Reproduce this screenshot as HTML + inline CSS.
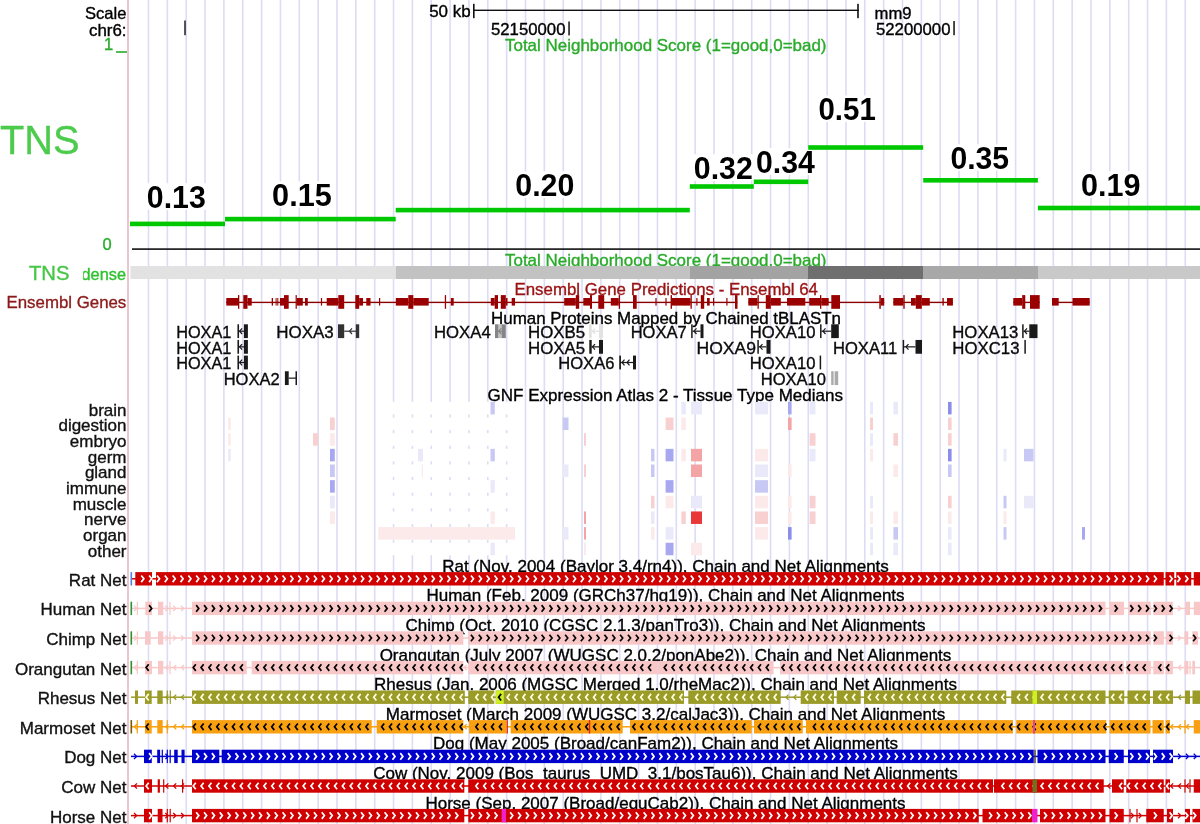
<!DOCTYPE html><html><head><meta charset="utf-8"><title>UCSC Genome Browser - HOXA cluster</title><style>html,body{margin:0;padding:0;background:#fff;overflow:hidden;width:1200px;height:824px}svg{display:block}</style></head><body><svg width="1200" height="824" viewBox="0 0 1200 824" font-family="'Liberation Sans', Arial, Helvetica, sans-serif"><rect x="0" y="0" width="1200" height="824" fill="#ffffff"/><rect x="147.70" y="0.00" width="1.60" height="824.00" fill="#dcdcf6"/>
<rect x="166.55" y="0.00" width="1.60" height="824.00" fill="#dcdcf6"/>
<rect x="185.40" y="0.00" width="1.60" height="824.00" fill="#dcdcf6"/>
<rect x="204.25" y="0.00" width="1.60" height="824.00" fill="#dcdcf6"/>
<rect x="223.10" y="0.00" width="1.60" height="824.00" fill="#dcdcf6"/>
<rect x="241.95" y="0.00" width="1.60" height="824.00" fill="#dcdcf6"/>
<rect x="260.80" y="0.00" width="1.60" height="824.00" fill="#dcdcf6"/>
<rect x="279.65" y="0.00" width="1.60" height="824.00" fill="#dcdcf6"/>
<rect x="298.50" y="0.00" width="1.60" height="824.00" fill="#dcdcf6"/>
<rect x="317.35" y="0.00" width="1.60" height="824.00" fill="#dcdcf6"/>
<rect x="336.20" y="0.00" width="1.60" height="824.00" fill="#dcdcf6"/>
<rect x="355.05" y="0.00" width="1.60" height="824.00" fill="#dcdcf6"/>
<rect x="373.90" y="0.00" width="1.60" height="824.00" fill="#dcdcf6"/>
<rect x="392.75" y="0.00" width="1.60" height="824.00" fill="#dcdcf6"/>
<rect x="411.60" y="0.00" width="1.60" height="824.00" fill="#dcdcf6"/>
<rect x="430.45" y="0.00" width="1.60" height="824.00" fill="#dcdcf6"/>
<rect x="449.30" y="0.00" width="1.60" height="824.00" fill="#dcdcf6"/>
<rect x="468.15" y="0.00" width="1.60" height="824.00" fill="#dcdcf6"/>
<rect x="487.00" y="0.00" width="1.60" height="824.00" fill="#dcdcf6"/>
<rect x="505.85" y="0.00" width="1.60" height="824.00" fill="#dcdcf6"/>
<rect x="524.70" y="0.00" width="1.60" height="824.00" fill="#dcdcf6"/>
<rect x="543.55" y="0.00" width="1.60" height="824.00" fill="#dcdcf6"/>
<rect x="562.40" y="0.00" width="1.60" height="824.00" fill="#dcdcf6"/>
<rect x="581.25" y="0.00" width="1.60" height="824.00" fill="#dcdcf6"/>
<rect x="600.10" y="0.00" width="1.60" height="824.00" fill="#dcdcf6"/>
<rect x="618.95" y="0.00" width="1.60" height="824.00" fill="#dcdcf6"/>
<rect x="637.80" y="0.00" width="1.60" height="824.00" fill="#dcdcf6"/>
<rect x="656.65" y="0.00" width="1.60" height="824.00" fill="#dcdcf6"/>
<rect x="675.50" y="0.00" width="1.60" height="824.00" fill="#dcdcf6"/>
<rect x="694.35" y="0.00" width="1.60" height="824.00" fill="#dcdcf6"/>
<rect x="713.20" y="0.00" width="1.60" height="824.00" fill="#dcdcf6"/>
<rect x="732.05" y="0.00" width="1.60" height="824.00" fill="#dcdcf6"/>
<rect x="750.90" y="0.00" width="1.60" height="824.00" fill="#dcdcf6"/>
<rect x="769.75" y="0.00" width="1.60" height="824.00" fill="#dcdcf6"/>
<rect x="788.60" y="0.00" width="1.60" height="824.00" fill="#dcdcf6"/>
<rect x="807.45" y="0.00" width="1.60" height="824.00" fill="#dcdcf6"/>
<rect x="826.30" y="0.00" width="1.60" height="824.00" fill="#dcdcf6"/>
<rect x="845.15" y="0.00" width="1.60" height="824.00" fill="#dcdcf6"/>
<rect x="864.00" y="0.00" width="1.60" height="824.00" fill="#dcdcf6"/>
<rect x="882.85" y="0.00" width="1.60" height="824.00" fill="#dcdcf6"/>
<rect x="901.70" y="0.00" width="1.60" height="824.00" fill="#dcdcf6"/>
<rect x="920.55" y="0.00" width="1.60" height="824.00" fill="#dcdcf6"/>
<rect x="939.40" y="0.00" width="1.60" height="824.00" fill="#dcdcf6"/>
<rect x="958.25" y="0.00" width="1.60" height="824.00" fill="#dcdcf6"/>
<rect x="977.10" y="0.00" width="1.60" height="824.00" fill="#dcdcf6"/>
<rect x="995.95" y="0.00" width="1.60" height="824.00" fill="#dcdcf6"/>
<rect x="1014.80" y="0.00" width="1.60" height="824.00" fill="#dcdcf6"/>
<rect x="1033.65" y="0.00" width="1.60" height="824.00" fill="#dcdcf6"/>
<rect x="1052.50" y="0.00" width="1.60" height="824.00" fill="#dcdcf6"/>
<rect x="1071.35" y="0.00" width="1.60" height="824.00" fill="#dcdcf6"/>
<rect x="1090.20" y="0.00" width="1.60" height="824.00" fill="#dcdcf6"/>
<rect x="1109.05" y="0.00" width="1.60" height="824.00" fill="#dcdcf6"/>
<rect x="1127.90" y="0.00" width="1.60" height="824.00" fill="#dcdcf6"/>
<rect x="1146.75" y="0.00" width="1.60" height="824.00" fill="#dcdcf6"/>
<rect x="1165.60" y="0.00" width="1.60" height="824.00" fill="#dcdcf6"/>
<rect x="1184.45" y="0.00" width="1.60" height="824.00" fill="#dcdcf6"/>
<rect x="127.00" y="0.00" width="2.00" height="824.00" fill="#ebc6ca"/>
<text x="85.00" y="18.50" font-size="16.5" fill="#000" text-anchor="start" stroke="#000" stroke-width="0.35" textLength="41.5" lengthAdjust="spacingAndGlyphs">Scale</text>
<text x="89.00" y="35.50" font-size="16.5" fill="#000" text-anchor="start" stroke="#000" stroke-width="0.35" textLength="37.5" lengthAdjust="spacingAndGlyphs">chr6:</text>
<text x="104.00" y="50.20" font-size="16.5" fill="#2aab2a" text-anchor="start" stroke="#2aab2a" stroke-width="0.35">1</text>
<rect x="116.00" y="51.20" width="11.00" height="1.60" fill="#2aab2a"/>
<rect x="184.30" y="20.50" width="1.40" height="14.70" fill="#111"/>
<text x="429.20" y="16.70" font-size="16.5" fill="#000" text-anchor="start" stroke="#000" stroke-width="0.35" textLength="41.5" lengthAdjust="spacingAndGlyphs">50 kb</text>
<rect x="473.00" y="3.80" width="1.60" height="14.40" fill="#111"/>
<rect x="473.00" y="9.60" width="385.80" height="1.40" fill="#111"/>
<rect x="857.20" y="3.80" width="1.60" height="14.40" fill="#111"/>
<text x="491.00" y="35.40" font-size="16.5" fill="#000" text-anchor="start" stroke="#000" stroke-width="0.35" textLength="74.5" lengthAdjust="spacingAndGlyphs">52150000</text>
<rect x="568.30" y="21.50" width="1.50" height="13.90" fill="#111"/>
<text x="874.60" y="18.50" font-size="16.5" fill="#000" text-anchor="start" stroke="#000" stroke-width="0.35" textLength="37.0" lengthAdjust="spacingAndGlyphs">mm9</text>
<text x="876.00" y="35.20" font-size="16.5" fill="#000" text-anchor="start" stroke="#000" stroke-width="0.35" textLength="74.5" lengthAdjust="spacingAndGlyphs">52200000</text>
<rect x="953.30" y="21.00" width="1.50" height="14.20" fill="#111"/>
<text x="505.00" y="50.80" font-size="16.5" fill="#2aab2a" text-anchor="start" stroke="#2aab2a" stroke-width="0.35" textLength="321.5" lengthAdjust="spacingAndGlyphs">Total Neighborhood Score (1=good,0=bad)</text>
<text x="0.00" y="154.40" font-size="40" fill="#4ccb4c" text-anchor="start" stroke="#4ccb4c" stroke-width="0.35" textLength="79.5" lengthAdjust="spacingAndGlyphs">TNS</text>
<rect x="144.50" y="183.20" width="64.00" height="26.60" fill="#ffffff"/>
<rect x="269.80" y="181.20" width="64.70" height="26.60" fill="#ffffff"/>
<rect x="513.00" y="171.40" width="64.10" height="26.60" fill="#ffffff"/>
<rect x="691.50" y="154.20" width="64.00" height="26.60" fill="#ffffff"/>
<rect x="753.70" y="148.20" width="63.80" height="26.60" fill="#ffffff"/>
<rect x="816.20" y="95.40" width="62.30" height="26.60" fill="#ffffff"/>
<rect x="948.10" y="144.20" width="63.70" height="26.60" fill="#ffffff"/>
<rect x="1078.80" y="171.20" width="64.50" height="26.60" fill="#ffffff"/>
<rect x="130.00" y="221.60" width="95.00" height="4.60" fill="#00c800"/>
<rect x="225.00" y="216.80" width="170.70" height="4.60" fill="#00c800"/>
<rect x="395.70" y="207.80" width="294.10" height="4.60" fill="#00c800"/>
<rect x="689.80" y="184.20" width="64.00" height="4.60" fill="#00c800"/>
<rect x="753.80" y="179.50" width="54.40" height="4.60" fill="#00c800"/>
<rect x="808.20" y="145.20" width="115.00" height="4.60" fill="#00c800"/>
<rect x="923.20" y="178.00" width="114.70" height="4.60" fill="#00c800"/>
<rect x="1037.90" y="205.70" width="162.10" height="4.60" fill="#00c800"/>
<text x="146.80" y="208.00" font-size="31" fill="#000" text-anchor="start" font-weight="bold" textLength="59.0" lengthAdjust="spacingAndGlyphs">0.13</text>
<text x="272.10" y="206.00" font-size="31" fill="#000" text-anchor="start" font-weight="bold" textLength="59.7" lengthAdjust="spacingAndGlyphs">0.15</text>
<text x="515.30" y="196.20" font-size="31" fill="#000" text-anchor="start" font-weight="bold" textLength="59.1" lengthAdjust="spacingAndGlyphs">0.20</text>
<text x="693.80" y="179.00" font-size="31" fill="#000" text-anchor="start" font-weight="bold" textLength="59.0" lengthAdjust="spacingAndGlyphs">0.32</text>
<text x="756.00" y="173.00" font-size="31" fill="#000" text-anchor="start" font-weight="bold" textLength="58.8" lengthAdjust="spacingAndGlyphs">0.34</text>
<text x="818.50" y="120.20" font-size="31" fill="#000" text-anchor="start" font-weight="bold" textLength="57.3" lengthAdjust="spacingAndGlyphs">0.51</text>
<text x="950.40" y="169.00" font-size="31" fill="#000" text-anchor="start" font-weight="bold" textLength="58.7" lengthAdjust="spacingAndGlyphs">0.35</text>
<text x="1081.10" y="196.00" font-size="31" fill="#000" text-anchor="start" font-weight="bold" textLength="59.5" lengthAdjust="spacingAndGlyphs">0.19</text>
<text x="102.50" y="250.00" font-size="16.5" fill="#2aab2a" text-anchor="start" stroke="#2aab2a" stroke-width="0.35">0</text>
<rect x="132.00" y="248.30" width="1068.00" height="1.60" fill="#111"/>
<text x="505.00" y="265.50" font-size="16.5" fill="#2aab2a" text-anchor="start" stroke="#2aab2a" stroke-width="0.35" textLength="321.5" lengthAdjust="spacingAndGlyphs">Total Neighborhood Score (1=good,0=bad)</text>
<rect x="130.50" y="266.00" width="265.25" height="13.00" fill="#e2e2e2"/>
<rect x="395.75" y="266.00" width="294.25" height="13.00" fill="#c2c2c2"/>
<rect x="690.00" y="266.00" width="118.00" height="13.00" fill="#a3a3a3"/>
<rect x="808.00" y="266.00" width="115.00" height="13.00" fill="#6f6f6f"/>
<rect x="923.00" y="266.00" width="115.00" height="13.00" fill="#a8a8a8"/>
<rect x="1038.00" y="266.00" width="162.00" height="13.00" fill="#c9c9c9"/>
<text x="29.00" y="280.00" font-size="19.75" fill="#46c646" text-anchor="start" stroke="#46c646" stroke-width="0.35" textLength="40.5" lengthAdjust="spacingAndGlyphs">TNS</text>
<clipPath id="dclip"><rect x="83.2" y="260" width="50" height="30"/></clipPath>
<text x="81.50" y="280.00" font-size="16.5" fill="#2ec22e" text-anchor="start" stroke="#2ec22e" stroke-width="0.35" textLength="44.5" lengthAdjust="spacingAndGlyphs" clip-path="url(#dclip)">dense</text>
<text x="6.50" y="307.70" font-size="16.5" fill="#8c1a1a" text-anchor="start" stroke="#8c1a1a" stroke-width="0.35" textLength="119.8" lengthAdjust="spacingAndGlyphs">Ensembl Genes</text>
<text x="514.50" y="295.00" font-size="16.5" fill="#9a1212" text-anchor="start" stroke="#9a1212" stroke-width="0.35" textLength="303.5" lengthAdjust="spacingAndGlyphs">Ensembl Gene Predictions - Ensembl 64</text>
<rect x="226.00" y="301.70" width="511.50" height="1.40" fill="#8a0000"/>
<rect x="748.30" y="301.70" width="135.90" height="1.40" fill="#8a0000"/>
<rect x="893.30" y="301.70" width="59.70" height="1.40" fill="#8a0000"/>
<rect x="1013.30" y="301.70" width="26.40" height="1.40" fill="#8a0000"/>
<rect x="1052.00" y="301.70" width="37.70" height="1.40" fill="#8a0000"/>
<rect x="226.30" y="298.00" width="11.70" height="7.60" fill="#9a0000"/>
<rect x="238.00" y="295.10" width="1.30" height="13.70" fill="#9a0000"/>
<rect x="243.30" y="295.10" width="4.20" height="13.70" fill="#9a0000"/>
<rect x="247.50" y="298.00" width="4.20" height="7.60" fill="#9a0000"/>
<rect x="271.70" y="298.00" width="1.30" height="7.60" fill="#9a0000"/>
<rect x="275.60" y="298.00" width="1.00" height="7.60" fill="#9a0000"/>
<rect x="277.30" y="298.00" width="1.00" height="7.60" fill="#9a0000"/>
<rect x="280.00" y="298.00" width="4.00" height="7.60" fill="#9a0000"/>
<rect x="284.00" y="295.10" width="4.70" height="13.70" fill="#9a0000"/>
<rect x="295.60" y="295.10" width="1.20" height="13.70" fill="#9a0000"/>
<rect x="296.70" y="298.00" width="6.10" height="7.60" fill="#9a0000"/>
<rect x="305.00" y="298.00" width="2.80" height="7.60" fill="#9a0000"/>
<rect x="320.90" y="298.00" width="1.20" height="7.60" fill="#9a0000"/>
<rect x="326.70" y="298.00" width="11.60" height="7.60" fill="#9a0000"/>
<rect x="338.30" y="295.10" width="5.90" height="13.70" fill="#9a0000"/>
<rect x="355.30" y="295.10" width="3.90" height="13.70" fill="#9a0000"/>
<rect x="359.20" y="298.00" width="3.80" height="7.60" fill="#9a0000"/>
<rect x="366.30" y="298.00" width="4.20" height="7.60" fill="#9a0000"/>
<rect x="379.00" y="298.00" width="1.20" height="7.60" fill="#9a0000"/>
<rect x="395.80" y="298.00" width="12.50" height="7.60" fill="#9a0000"/>
<rect x="408.30" y="295.10" width="5.00" height="13.70" fill="#9a0000"/>
<rect x="413.30" y="298.00" width="15.40" height="7.60" fill="#9a0000"/>
<rect x="444.80" y="295.10" width="1.30" height="13.70" fill="#9a0000"/>
<rect x="450.80" y="298.00" width="2.90" height="7.60" fill="#9a0000"/>
<rect x="490.80" y="298.00" width="3.90" height="7.60" fill="#9a0000"/>
<rect x="494.70" y="295.10" width="3.30" height="13.70" fill="#9a0000"/>
<rect x="500.80" y="295.10" width="5.00" height="13.70" fill="#9a0000"/>
<rect x="505.80" y="298.00" width="1.70" height="7.60" fill="#9a0000"/>
<rect x="511.70" y="298.00" width="3.30" height="7.60" fill="#9a0000"/>
<rect x="564.20" y="298.00" width="11.60" height="7.60" fill="#9a0000"/>
<rect x="575.80" y="295.10" width="3.40" height="13.70" fill="#9a0000"/>
<rect x="583.30" y="298.00" width="6.70" height="7.60" fill="#9a0000"/>
<rect x="590.00" y="295.10" width="2.00" height="13.70" fill="#9a0000"/>
<rect x="598.30" y="295.10" width="5.90" height="13.70" fill="#9a0000"/>
<rect x="610.80" y="298.00" width="7.90" height="7.60" fill="#9a0000"/>
<rect x="618.70" y="295.10" width="1.30" height="13.70" fill="#9a0000"/>
<rect x="633.00" y="295.10" width="3.70" height="13.70" fill="#9a0000"/>
<rect x="655.40" y="298.00" width="1.20" height="7.60" fill="#9a0000"/>
<rect x="665.40" y="298.00" width="1.20" height="7.60" fill="#9a0000"/>
<rect x="670.60" y="295.10" width="1.40" height="13.70" fill="#9a0000"/>
<rect x="672.00" y="298.00" width="18.50" height="7.60" fill="#9a0000"/>
<rect x="690.50" y="295.10" width="1.30" height="13.70" fill="#9a0000"/>
<rect x="696.30" y="298.00" width="1.20" height="7.60" fill="#9a0000"/>
<rect x="700.80" y="295.10" width="3.40" height="13.70" fill="#9a0000"/>
<rect x="707.00" y="298.00" width="2.70" height="7.60" fill="#9a0000"/>
<rect x="713.00" y="298.00" width="1.20" height="7.60" fill="#9a0000"/>
<rect x="726.30" y="298.00" width="1.20" height="7.60" fill="#9a0000"/>
<rect x="735.00" y="295.10" width="2.50" height="13.70" fill="#9a0000"/>
<rect x="748.30" y="298.00" width="9.20" height="7.60" fill="#9a0000"/>
<rect x="757.50" y="295.10" width="1.30" height="13.70" fill="#9a0000"/>
<rect x="765.80" y="295.10" width="5.00" height="13.70" fill="#9a0000"/>
<rect x="770.80" y="298.00" width="10.00" height="7.60" fill="#9a0000"/>
<rect x="787.00" y="298.00" width="18.30" height="7.60" fill="#9a0000"/>
<rect x="809.20" y="298.00" width="10.80" height="7.60" fill="#9a0000"/>
<rect x="820.00" y="295.10" width="1.30" height="13.70" fill="#9a0000"/>
<rect x="821.30" y="298.00" width="7.40" height="7.60" fill="#9a0000"/>
<rect x="831.30" y="295.10" width="8.70" height="13.70" fill="#9a0000"/>
<rect x="879.30" y="295.10" width="1.50" height="13.70" fill="#9a0000"/>
<rect x="880.80" y="298.00" width="3.40" height="7.60" fill="#9a0000"/>
<rect x="893.30" y="298.00" width="10.00" height="7.60" fill="#9a0000"/>
<rect x="903.30" y="295.10" width="1.40" height="13.70" fill="#9a0000"/>
<rect x="911.00" y="298.00" width="4.80" height="7.60" fill="#9a0000"/>
<rect x="915.80" y="295.10" width="6.00" height="13.70" fill="#9a0000"/>
<rect x="921.80" y="298.00" width="8.00" height="7.60" fill="#9a0000"/>
<rect x="942.40" y="298.00" width="1.40" height="7.60" fill="#9a0000"/>
<rect x="947.00" y="298.00" width="5.90" height="7.60" fill="#9a0000"/>
<rect x="1013.30" y="298.00" width="8.90" height="7.60" fill="#9a0000"/>
<rect x="1022.20" y="295.10" width="3.10" height="13.70" fill="#9a0000"/>
<rect x="1030.00" y="295.10" width="9.70" height="13.70" fill="#9a0000"/>
<rect x="1052.00" y="298.00" width="6.70" height="7.60" fill="#9a0000"/>
<rect x="1072.50" y="298.00" width="17.20" height="7.60" fill="#9a0000"/>
<text x="491.00" y="324.20" font-size="17" fill="#000" text-anchor="start" stroke="#000" stroke-width="0.35" textLength="350.0" lengthAdjust="spacingAndGlyphs">Human Proteins Mapped by Chained tBLASTn</text>
<text x="176.20" y="338.10" font-size="17" fill="#0a0a0a" text-anchor="start" stroke="#0a0a0a" stroke-width="0.35" textLength="55.2" lengthAdjust="spacingAndGlyphs">HOXA1</text>
<text x="176.20" y="353.75" font-size="17" fill="#0a0a0a" text-anchor="start" stroke="#0a0a0a" stroke-width="0.35" textLength="55.2" lengthAdjust="spacingAndGlyphs">HOXA1</text>
<text x="176.20" y="369.40" font-size="17" fill="#0a0a0a" text-anchor="start" stroke="#0a0a0a" stroke-width="0.35" textLength="55.2" lengthAdjust="spacingAndGlyphs">HOXA1</text>
<text x="223.70" y="385.05" font-size="17" fill="#0a0a0a" text-anchor="start" stroke="#0a0a0a" stroke-width="0.35" textLength="56.0" lengthAdjust="spacingAndGlyphs">HOXA2</text>
<text x="276.20" y="338.10" font-size="17" fill="#0a0a0a" text-anchor="start" stroke="#0a0a0a" stroke-width="0.35" textLength="57.5" lengthAdjust="spacingAndGlyphs">HOXA3</text>
<text x="434.00" y="338.10" font-size="17" fill="#0a0a0a" text-anchor="start" stroke="#0a0a0a" stroke-width="0.35" textLength="56.7" lengthAdjust="spacingAndGlyphs">HOXA4</text>
<text x="528.00" y="338.10" font-size="17" fill="#0a0a0a" text-anchor="start" stroke="#0a0a0a" stroke-width="0.35" textLength="57.2" lengthAdjust="spacingAndGlyphs">HOXB5</text>
<text x="528.00" y="353.75" font-size="17" fill="#0a0a0a" text-anchor="start" stroke="#0a0a0a" stroke-width="0.35" textLength="57.2" lengthAdjust="spacingAndGlyphs">HOXA5</text>
<text x="558.30" y="369.40" font-size="17" fill="#0a0a0a" text-anchor="start" stroke="#0a0a0a" stroke-width="0.35" textLength="56.1" lengthAdjust="spacingAndGlyphs">HOXA6</text>
<text x="630.70" y="338.10" font-size="17" fill="#0a0a0a" text-anchor="start" stroke="#0a0a0a" stroke-width="0.35" textLength="56.0" lengthAdjust="spacingAndGlyphs">HOXA7</text>
<text x="696.50" y="353.75" font-size="17" fill="#0a0a0a" text-anchor="start" stroke="#0a0a0a" stroke-width="0.35" textLength="59.5" lengthAdjust="spacingAndGlyphs">HOXA9</text>
<text x="749.70" y="338.10" font-size="17" fill="#0a0a0a" text-anchor="start" stroke="#0a0a0a" stroke-width="0.35" textLength="65.8" lengthAdjust="spacingAndGlyphs">HOXA10</text>
<text x="749.70" y="369.40" font-size="17" fill="#0a0a0a" text-anchor="start" stroke="#0a0a0a" stroke-width="0.35" textLength="65.8" lengthAdjust="spacingAndGlyphs">HOXA10</text>
<text x="760.70" y="385.05" font-size="17" fill="#0a0a0a" text-anchor="start" stroke="#0a0a0a" stroke-width="0.35" textLength="65.3" lengthAdjust="spacingAndGlyphs">HOXA10</text>
<text x="833.00" y="353.75" font-size="17" fill="#0a0a0a" text-anchor="start" stroke="#0a0a0a" stroke-width="0.35" textLength="64.2" lengthAdjust="spacingAndGlyphs">HOXA11</text>
<text x="952.30" y="338.10" font-size="17" fill="#0a0a0a" text-anchor="start" stroke="#0a0a0a" stroke-width="0.35" textLength="66.0" lengthAdjust="spacingAndGlyphs">HOXA13</text>
<text x="952.30" y="353.75" font-size="17" fill="#0a0a0a" text-anchor="start" stroke="#0a0a0a" stroke-width="0.35" textLength="67.2" lengthAdjust="spacingAndGlyphs">HOXC13</text>
<rect x="237.45" y="324.30" width="1.60" height="13.80" fill="#1a1a1a"/>
<rect x="238.90" y="330.60" width="5.10" height="1.20" fill="#1a1a1a"/>
<polyline points="242.10,328.40 239.60,331.20 242.10,334.00" fill="none" stroke="#1a1a1a" stroke-width="1.2"/>
<rect x="243.90" y="324.30" width="4.00" height="13.80" fill="#1a1a1a"/>
<rect x="237.45" y="339.95" width="1.60" height="13.80" fill="#1a1a1a"/>
<rect x="238.90" y="346.25" width="5.10" height="1.20" fill="#1a1a1a"/>
<polyline points="242.10,344.05 239.60,346.85 242.10,349.65" fill="none" stroke="#1a1a1a" stroke-width="1.2"/>
<rect x="243.90" y="339.95" width="4.00" height="13.80" fill="#1a1a1a"/>
<rect x="237.45" y="355.60" width="1.60" height="13.80" fill="#1a1a1a"/>
<rect x="238.90" y="361.90" width="5.10" height="1.20" fill="#1a1a1a"/>
<polyline points="242.10,359.70 239.60,362.50 242.10,365.30" fill="none" stroke="#1a1a1a" stroke-width="1.2"/>
<rect x="243.90" y="355.60" width="4.00" height="13.80" fill="#1a1a1a"/>
<rect x="284.90" y="371.25" width="3.80" height="13.80" fill="#1a1a1a"/>
<rect x="288.70" y="377.55" width="7.30" height="1.20" fill="#1a1a1a"/>
<rect x="295.50" y="371.25" width="1.50" height="13.80" fill="#1a1a1a"/>
<rect x="338.00" y="324.30" width="6.20" height="13.80" fill="#333"/>
<rect x="344.20" y="330.60" width="11.80" height="1.20" fill="#333"/>
<polyline points="352.00,328.40 349.50,331.20 352.00,334.00" fill="none" stroke="#333" stroke-width="1.2"/>
<rect x="355.80" y="324.30" width="3.40" height="13.80" fill="#333"/>
<rect x="498.00" y="324.30" width="4.00" height="13.80" fill="#c4c4c4"/>
<rect x="495.00" y="324.30" width="3.20" height="13.80" fill="#858585"/>
<rect x="498.00" y="330.60" width="4.00" height="1.20" fill="#858585"/>
<polyline points="501.30,328.40 498.80,331.20 501.30,334.00" fill="none" stroke="#858585" stroke-width="1.2"/>
<rect x="501.80" y="324.30" width="4.00" height="13.80" fill="#858585"/>
<rect x="589.00" y="324.30" width="2.70" height="13.80" fill="#e2e2e2"/>
<rect x="591.70" y="330.60" width="7.30" height="1.20" fill="#e2e2e2"/>
<polyline points="595.00,328.40 592.50,331.20 595.00,334.00" fill="none" stroke="#e2e2e2" stroke-width="1.2"/>
<rect x="599.00" y="324.30" width="4.00" height="13.80" fill="#e2e2e2"/>
<rect x="589.30" y="339.95" width="2.40" height="13.80" fill="#1a1a1a"/>
<rect x="591.70" y="346.25" width="7.30" height="1.20" fill="#1a1a1a"/>
<polyline points="595.00,344.05 592.50,346.85 595.00,349.65" fill="none" stroke="#1a1a1a" stroke-width="1.2"/>
<rect x="599.00" y="339.95" width="4.00" height="13.80" fill="#1a1a1a"/>
<rect x="619.25" y="355.60" width="1.70" height="13.80" fill="#1a1a1a"/>
<rect x="620.80" y="361.90" width="12.20" height="1.20" fill="#1a1a1a"/>
<polyline points="624.50,359.70 622.00,362.50 624.50,365.30" fill="none" stroke="#1a1a1a" stroke-width="1.2"/>
<polyline points="629.50,359.70 627.00,362.50 629.50,365.30" fill="none" stroke="#1a1a1a" stroke-width="1.2"/>
<rect x="633.00" y="355.60" width="3.00" height="13.80" fill="#1a1a1a"/>
<rect x="691.15" y="324.30" width="1.50" height="13.80" fill="#1a1a1a"/>
<rect x="692.50" y="330.60" width="8.00" height="1.20" fill="#1a1a1a"/>
<polyline points="696.50,328.40 694.00,331.20 696.50,334.00" fill="none" stroke="#1a1a1a" stroke-width="1.2"/>
<rect x="700.50" y="324.30" width="3.00" height="13.80" fill="#1a1a1a"/>
<rect x="757.35" y="339.95" width="1.50" height="13.80" fill="#1a1a1a"/>
<rect x="758.70" y="346.25" width="7.80" height="1.20" fill="#1a1a1a"/>
<polyline points="762.50,344.05 760.00,346.85 762.50,349.65" fill="none" stroke="#1a1a1a" stroke-width="1.2"/>
<rect x="766.50" y="339.95" width="4.00" height="13.80" fill="#1a1a1a"/>
<rect x="820.05" y="324.30" width="1.50" height="13.80" fill="#1a1a1a"/>
<rect x="821.40" y="330.60" width="9.80" height="1.20" fill="#1a1a1a"/>
<polyline points="825.50,328.40 823.00,331.20 825.50,334.00" fill="none" stroke="#1a1a1a" stroke-width="1.2"/>
<rect x="831.20" y="324.30" width="7.60" height="13.80" fill="#1a1a1a"/>
<rect x="819.65" y="355.60" width="1.50" height="13.80" fill="#1a1a1a"/>
<rect x="831.20" y="371.25" width="2.40" height="13.80" fill="#aaaaaa"/>
<rect x="834.60" y="371.25" width="3.60" height="13.80" fill="#aaaaaa"/>
<rect x="902.65" y="339.95" width="1.50" height="13.80" fill="#1a1a1a"/>
<rect x="904.00" y="346.25" width="11.50" height="1.20" fill="#1a1a1a"/>
<polyline points="908.50,344.05 906.00,346.85 908.50,349.65" fill="none" stroke="#1a1a1a" stroke-width="1.2"/>
<rect x="915.50" y="339.95" width="6.50" height="13.80" fill="#1a1a1a"/>
<rect x="1022.15" y="324.30" width="1.50" height="13.80" fill="#1a1a1a"/>
<rect x="1023.50" y="330.60" width="5.80" height="1.20" fill="#1a1a1a"/>
<polyline points="1027.00,328.40 1024.50,331.20 1027.00,334.00" fill="none" stroke="#1a1a1a" stroke-width="1.2"/>
<rect x="1029.30" y="324.30" width="8.20" height="13.80" fill="#1a1a1a"/>
<rect x="1024.35" y="339.95" width="1.50" height="13.80" fill="#1a1a1a"/>
<text x="487.50" y="400.80" font-size="17" fill="#000" text-anchor="start" stroke="#000" stroke-width="0.35" textLength="355.5" lengthAdjust="spacingAndGlyphs">GNF Expression Atlas 2 - Tissue Type Medians</text>
<text x="126.50" y="415.70" font-size="17" fill="#111" text-anchor="end" stroke="#111" stroke-width="0.35">brain</text>
<text x="126.50" y="431.35" font-size="17" fill="#111" text-anchor="end" stroke="#111" stroke-width="0.35">digestion</text>
<text x="126.50" y="447.00" font-size="17" fill="#111" text-anchor="end" stroke="#111" stroke-width="0.35">embryo</text>
<text x="126.50" y="462.65" font-size="17" fill="#111" text-anchor="end" stroke="#111" stroke-width="0.35">germ</text>
<text x="126.50" y="478.30" font-size="17" fill="#111" text-anchor="end" stroke="#111" stroke-width="0.35">gland</text>
<text x="126.50" y="493.95" font-size="17" fill="#111" text-anchor="end" stroke="#111" stroke-width="0.35">immune</text>
<text x="126.50" y="509.60" font-size="17" fill="#111" text-anchor="end" stroke="#111" stroke-width="0.35">muscle</text>
<text x="126.50" y="525.25" font-size="17" fill="#111" text-anchor="end" stroke="#111" stroke-width="0.35">nerve</text>
<text x="126.50" y="540.90" font-size="17" fill="#111" text-anchor="end" stroke="#111" stroke-width="0.35">organ</text>
<text x="126.50" y="556.55" font-size="17" fill="#111" text-anchor="end" stroke="#111" stroke-width="0.35">other</text>
<rect x="378.30" y="401.90" width="136.70" height="12.50" fill="#ffffff"/>
<rect x="378.30" y="417.55" width="136.70" height="12.50" fill="#ffffff"/>
<rect x="378.30" y="433.20" width="136.70" height="12.50" fill="#ffffff"/>
<rect x="378.30" y="448.85" width="136.70" height="12.50" fill="#ffffff"/>
<rect x="378.30" y="464.50" width="136.70" height="12.50" fill="#ffffff"/>
<rect x="378.30" y="480.15" width="136.70" height="12.50" fill="#ffffff"/>
<rect x="378.30" y="495.80" width="136.70" height="12.50" fill="#ffffff"/>
<rect x="378.30" y="511.45" width="136.70" height="12.50" fill="#ffffff"/>
<rect x="378.30" y="527.10" width="136.70" height="12.50" fill="#ffffff"/>
<rect x="378.30" y="542.75" width="136.70" height="12.50" fill="#ffffff"/>
<rect x="228.30" y="417.55" width="2.40" height="12.50" fill="#fce9e9"/>
<rect x="228.30" y="433.20" width="2.40" height="12.50" fill="#fce9e9"/>
<rect x="228.30" y="448.85" width="2.40" height="12.50" fill="#e9e9fa"/>
<rect x="313.00" y="433.20" width="5.30" height="12.50" fill="#f8d0d0"/>
<rect x="330.00" y="417.55" width="4.80" height="12.50" fill="#f8d0d0"/>
<rect x="330.00" y="433.20" width="4.80" height="12.50" fill="#fce9e9"/>
<rect x="330.00" y="448.85" width="4.80" height="12.50" fill="#a8a8f0"/>
<rect x="330.00" y="464.50" width="4.80" height="12.50" fill="#c8c8f5"/>
<rect x="330.00" y="480.15" width="4.80" height="12.50" fill="#a8a8f0"/>
<rect x="330.00" y="495.80" width="4.80" height="12.50" fill="#e9e9fa"/>
<rect x="330.00" y="511.45" width="4.80" height="12.50" fill="#fce9e9"/>
<rect x="378.30" y="527.10" width="136.70" height="12.50" fill="#fce9e9"/>
<rect x="418.00" y="448.85" width="5.00" height="12.50" fill="#e9e9fa"/>
<rect x="421.70" y="464.50" width="1.30" height="12.50" fill="#fce9e9"/>
<rect x="490.50" y="401.90" width="4.30" height="12.50" fill="#c8c8f5"/>
<rect x="490.50" y="448.85" width="4.30" height="12.50" fill="#c8c8f5"/>
<rect x="490.50" y="480.15" width="4.30" height="12.50" fill="#e9e9fa"/>
<rect x="490.50" y="511.45" width="4.30" height="12.50" fill="#fce9e9"/>
<rect x="490.50" y="542.75" width="4.30" height="12.50" fill="#e9e9fa"/>
<rect x="562.70" y="417.55" width="5.80" height="12.50" fill="#c8c8f5"/>
<rect x="562.70" y="464.50" width="5.80" height="12.50" fill="#e9e9fa"/>
<rect x="562.70" y="527.10" width="5.80" height="12.50" fill="#e9e9fa"/>
<rect x="584.00" y="433.20" width="2.00" height="12.50" fill="#f8d0d0"/>
<rect x="584.00" y="464.50" width="2.00" height="12.50" fill="#f8d0d0"/>
<rect x="584.00" y="511.45" width="2.00" height="12.50" fill="#f4a4a4"/>
<rect x="584.00" y="527.10" width="2.00" height="12.50" fill="#f4a4a4"/>
<rect x="584.00" y="542.75" width="2.00" height="12.50" fill="#fce9e9"/>
<rect x="651.00" y="448.85" width="3.50" height="12.50" fill="#c8c8f5"/>
<rect x="651.00" y="464.50" width="3.50" height="12.50" fill="#c8c8f5"/>
<rect x="651.00" y="495.80" width="3.50" height="12.50" fill="#f8d0d0"/>
<rect x="651.00" y="511.45" width="3.50" height="12.50" fill="#e9e9fa"/>
<rect x="651.00" y="527.10" width="3.50" height="12.50" fill="#fce9e9"/>
<rect x="665.60" y="417.55" width="7.90" height="12.50" fill="#f8d0d0"/>
<rect x="665.60" y="448.85" width="7.90" height="12.50" fill="#a8a8f0"/>
<rect x="665.60" y="480.15" width="7.90" height="12.50" fill="#a8a8f0"/>
<rect x="665.60" y="495.80" width="7.90" height="12.50" fill="#fce9e9"/>
<rect x="665.60" y="527.10" width="7.90" height="12.50" fill="#e9e9fa"/>
<rect x="665.60" y="542.75" width="7.90" height="12.50" fill="#a8a8f0"/>
<rect x="681.40" y="401.90" width="4.40" height="12.50" fill="#e9e9fa"/>
<rect x="681.40" y="417.55" width="4.40" height="12.50" fill="#fce9e9"/>
<rect x="681.40" y="448.85" width="4.40" height="12.50" fill="#fce9e9"/>
<rect x="681.40" y="511.45" width="4.40" height="12.50" fill="#f8d0d0"/>
<rect x="691.00" y="401.90" width="11.00" height="12.50" fill="#e9e9fa"/>
<rect x="691.00" y="448.85" width="11.00" height="12.50" fill="#f4a4a4"/>
<rect x="691.00" y="464.50" width="11.00" height="12.50" fill="#f4a4a4"/>
<rect x="691.00" y="495.80" width="11.00" height="12.50" fill="#e9e9fa"/>
<rect x="691.00" y="511.45" width="11.00" height="12.50" fill="#e83838"/>
<rect x="691.00" y="542.75" width="11.00" height="12.50" fill="#fce9e9"/>
<rect x="755.00" y="401.90" width="13.00" height="12.50" fill="#e9e9fa"/>
<rect x="755.00" y="448.85" width="13.00" height="12.50" fill="#fce9e9"/>
<rect x="755.00" y="464.50" width="13.00" height="12.50" fill="#e9e9fa"/>
<rect x="755.00" y="480.15" width="13.00" height="12.50" fill="#c8c8f5"/>
<rect x="755.00" y="495.80" width="13.00" height="12.50" fill="#fce9e9"/>
<rect x="755.00" y="511.45" width="13.00" height="12.50" fill="#f8d0d0"/>
<rect x="755.00" y="527.10" width="13.00" height="12.50" fill="#fce9e9"/>
<rect x="788.00" y="401.90" width="3.60" height="12.50" fill="#a8a8f0"/>
<rect x="788.00" y="417.55" width="3.60" height="12.50" fill="#f4a4a4"/>
<rect x="788.00" y="464.50" width="3.60" height="12.50" fill="#fce9e9"/>
<rect x="788.00" y="495.80" width="3.60" height="12.50" fill="#fce9e9"/>
<rect x="788.00" y="511.45" width="3.60" height="12.50" fill="#fce9e9"/>
<rect x="788.00" y="527.10" width="3.60" height="12.50" fill="#8c8ceb"/>
<rect x="809.60" y="401.90" width="5.90" height="12.50" fill="#e9e9fa"/>
<rect x="809.60" y="433.20" width="5.90" height="12.50" fill="#f8d0d0"/>
<rect x="809.60" y="448.85" width="5.90" height="12.50" fill="#e9e9fa"/>
<rect x="809.60" y="495.80" width="5.90" height="12.50" fill="#f8d0d0"/>
<rect x="809.60" y="511.45" width="5.90" height="12.50" fill="#f8d0d0"/>
<rect x="870.00" y="401.90" width="3.00" height="12.50" fill="#e9e9fa"/>
<rect x="870.00" y="417.55" width="3.00" height="12.50" fill="#f8d0d0"/>
<rect x="870.00" y="433.20" width="3.00" height="12.50" fill="#e9e9fa"/>
<rect x="870.00" y="448.85" width="3.00" height="12.50" fill="#fce9e9"/>
<rect x="870.00" y="495.80" width="3.00" height="12.50" fill="#e9e9fa"/>
<rect x="870.00" y="511.45" width="3.00" height="12.50" fill="#fce9e9"/>
<rect x="870.00" y="527.10" width="3.00" height="12.50" fill="#e9e9fa"/>
<rect x="870.00" y="542.75" width="3.00" height="12.50" fill="#e9e9fa"/>
<rect x="893.40" y="401.90" width="4.60" height="12.50" fill="#e9e9fa"/>
<rect x="893.40" y="433.20" width="4.60" height="12.50" fill="#f8d0d0"/>
<rect x="893.40" y="464.50" width="4.60" height="12.50" fill="#fce9e9"/>
<rect x="893.40" y="511.45" width="4.60" height="12.50" fill="#fce9e9"/>
<rect x="893.40" y="527.10" width="4.60" height="12.50" fill="#c8c8f5"/>
<rect x="893.40" y="542.75" width="4.60" height="12.50" fill="#e9e9fa"/>
<rect x="948.00" y="401.90" width="3.60" height="12.50" fill="#8c8ceb"/>
<rect x="948.00" y="417.55" width="3.60" height="12.50" fill="#f8d0d0"/>
<rect x="948.00" y="433.20" width="3.60" height="12.50" fill="#f8d0d0"/>
<rect x="948.00" y="448.85" width="3.60" height="12.50" fill="#8c8ceb"/>
<rect x="948.00" y="464.50" width="3.60" height="12.50" fill="#c8c8f5"/>
<rect x="948.00" y="495.80" width="3.60" height="12.50" fill="#f8d0d0"/>
<rect x="948.00" y="511.45" width="3.60" height="12.50" fill="#fce9e9"/>
<rect x="948.00" y="527.10" width="3.60" height="12.50" fill="#e9e9fa"/>
<rect x="948.00" y="542.75" width="3.60" height="12.50" fill="#e9e9fa"/>
<rect x="1003.50" y="448.85" width="3.00" height="12.50" fill="#e9e9fa"/>
<rect x="1003.50" y="495.80" width="3.00" height="12.50" fill="#c8c8f5"/>
<rect x="1003.50" y="511.45" width="3.00" height="12.50" fill="#fce9e9"/>
<rect x="1003.50" y="527.10" width="3.00" height="12.50" fill="#c8c8f5"/>
<rect x="1024.00" y="448.85" width="9.50" height="12.50" fill="#c8c8f5"/>
<rect x="1024.00" y="495.80" width="9.50" height="12.50" fill="#e9e9fa"/>
<rect x="1082.00" y="527.10" width="3.00" height="12.50" fill="#a8a8f0"/>
<text x="126.50" y="585.70" font-size="17" fill="#111" text-anchor="end" stroke="#111" stroke-width="0.35">Rat Net</text>
<text x="665.50" y="571.80" font-size="17" fill="#000" text-anchor="middle" stroke="#000" stroke-width="0.35">Rat (Nov. 2004 (Baylor 3.4/rn4)), Chain and Net Alignments</text>
<rect x="131.00" y="578.05" width="1069.00" height="1.50" fill="#d00000"/>
<rect x="130.50" y="572.10" width="1.60" height="13.40" fill="#5080e0"/>
<rect x="135.30" y="572.10" width="16.70" height="13.40" fill="#d00000"/>
<rect x="156.00" y="572.10" width="1007.75" height="13.40" fill="#d00000"/>
<rect x="1165.50" y="572.10" width="8.75" height="13.40" fill="#d00000"/>
<rect x="1176.25" y="572.10" width="15.00" height="13.40" fill="#d00000"/>
<rect x="1193.75" y="572.10" width="6.25" height="13.40" fill="#d00000"/>
<path d="M141.25,575.50L143.85,578.80L141.25,582.10M149.10,575.50L151.70,578.80L149.10,582.10M156.95,575.50L159.55,578.80L156.95,582.10M164.80,575.50L167.40,578.80L164.80,582.10M172.65,575.50L175.25,578.80L172.65,582.10M180.50,575.50L183.10,578.80L180.50,582.10M188.35,575.50L190.95,578.80L188.35,582.10M196.20,575.50L198.80,578.80L196.20,582.10M204.05,575.50L206.65,578.80L204.05,582.10M211.90,575.50L214.50,578.80L211.90,582.10M219.75,575.50L222.35,578.80L219.75,582.10M227.60,575.50L230.20,578.80L227.60,582.10M235.45,575.50L238.05,578.80L235.45,582.10M243.30,575.50L245.90,578.80L243.30,582.10M251.15,575.50L253.75,578.80L251.15,582.10M259.00,575.50L261.60,578.80L259.00,582.10M266.85,575.50L269.45,578.80L266.85,582.10M274.70,575.50L277.30,578.80L274.70,582.10M282.55,575.50L285.15,578.80L282.55,582.10M290.40,575.50L293.00,578.80L290.40,582.10M298.25,575.50L300.85,578.80L298.25,582.10M306.10,575.50L308.70,578.80L306.10,582.10M313.95,575.50L316.55,578.80L313.95,582.10M321.80,575.50L324.40,578.80L321.80,582.10M329.65,575.50L332.25,578.80L329.65,582.10M337.50,575.50L340.10,578.80L337.50,582.10M345.35,575.50L347.95,578.80L345.35,582.10M353.20,575.50L355.80,578.80L353.20,582.10M361.05,575.50L363.65,578.80L361.05,582.10M368.90,575.50L371.50,578.80L368.90,582.10M376.75,575.50L379.35,578.80L376.75,582.10M384.60,575.50L387.20,578.80L384.60,582.10M392.45,575.50L395.05,578.80L392.45,582.10M400.30,575.50L402.90,578.80L400.30,582.10M408.15,575.50L410.75,578.80L408.15,582.10M416.00,575.50L418.60,578.80L416.00,582.10M423.85,575.50L426.45,578.80L423.85,582.10M431.70,575.50L434.30,578.80L431.70,582.10M439.55,575.50L442.15,578.80L439.55,582.10M447.40,575.50L450.00,578.80L447.40,582.10M455.25,575.50L457.85,578.80L455.25,582.10M463.10,575.50L465.70,578.80L463.10,582.10M470.95,575.50L473.55,578.80L470.95,582.10M478.80,575.50L481.40,578.80L478.80,582.10M486.65,575.50L489.25,578.80L486.65,582.10M494.50,575.50L497.10,578.80L494.50,582.10M502.35,575.50L504.95,578.80L502.35,582.10M510.20,575.50L512.80,578.80L510.20,582.10M518.05,575.50L520.65,578.80L518.05,582.10M525.90,575.50L528.50,578.80L525.90,582.10M533.75,575.50L536.35,578.80L533.75,582.10M541.60,575.50L544.20,578.80L541.60,582.10M549.45,575.50L552.05,578.80L549.45,582.10M557.30,575.50L559.90,578.80L557.30,582.10M565.15,575.50L567.75,578.80L565.15,582.10M573.00,575.50L575.60,578.80L573.00,582.10M580.85,575.50L583.45,578.80L580.85,582.10M588.70,575.50L591.30,578.80L588.70,582.10M596.55,575.50L599.15,578.80L596.55,582.10M604.40,575.50L607.00,578.80L604.40,582.10M612.25,575.50L614.85,578.80L612.25,582.10M620.10,575.50L622.70,578.80L620.10,582.10M627.95,575.50L630.55,578.80L627.95,582.10M635.80,575.50L638.40,578.80L635.80,582.10M643.65,575.50L646.25,578.80L643.65,582.10M651.50,575.50L654.10,578.80L651.50,582.10M659.35,575.50L661.95,578.80L659.35,582.10M667.20,575.50L669.80,578.80L667.20,582.10M675.05,575.50L677.65,578.80L675.05,582.10M682.90,575.50L685.50,578.80L682.90,582.10M690.75,575.50L693.35,578.80L690.75,582.10M698.60,575.50L701.20,578.80L698.60,582.10M706.45,575.50L709.05,578.80L706.45,582.10M714.30,575.50L716.90,578.80L714.30,582.10M722.15,575.50L724.75,578.80L722.15,582.10M730.00,575.50L732.60,578.80L730.00,582.10M737.85,575.50L740.45,578.80L737.85,582.10M745.70,575.50L748.30,578.80L745.70,582.10M753.55,575.50L756.15,578.80L753.55,582.10M761.40,575.50L764.00,578.80L761.40,582.10M769.25,575.50L771.85,578.80L769.25,582.10M777.10,575.50L779.70,578.80L777.10,582.10M784.95,575.50L787.55,578.80L784.95,582.10M792.80,575.50L795.40,578.80L792.80,582.10M800.65,575.50L803.25,578.80L800.65,582.10M808.50,575.50L811.10,578.80L808.50,582.10M816.35,575.50L818.95,578.80L816.35,582.10M824.20,575.50L826.80,578.80L824.20,582.10M832.05,575.50L834.65,578.80L832.05,582.10M839.90,575.50L842.50,578.80L839.90,582.10M847.75,575.50L850.35,578.80L847.75,582.10M855.60,575.50L858.20,578.80L855.60,582.10M863.45,575.50L866.05,578.80L863.45,582.10M871.30,575.50L873.90,578.80L871.30,582.10M879.15,575.50L881.75,578.80L879.15,582.10M887.00,575.50L889.60,578.80L887.00,582.10M894.85,575.50L897.45,578.80L894.85,582.10M902.70,575.50L905.30,578.80L902.70,582.10M910.55,575.50L913.15,578.80L910.55,582.10M918.40,575.50L921.00,578.80L918.40,582.10M926.25,575.50L928.85,578.80L926.25,582.10M934.10,575.50L936.70,578.80L934.10,582.10M941.95,575.50L944.55,578.80L941.95,582.10M949.80,575.50L952.40,578.80L949.80,582.10M957.65,575.50L960.25,578.80L957.65,582.10M965.50,575.50L968.10,578.80L965.50,582.10M973.35,575.50L975.95,578.80L973.35,582.10M981.20,575.50L983.80,578.80L981.20,582.10M989.05,575.50L991.65,578.80L989.05,582.10M996.90,575.50L999.50,578.80L996.90,582.10M1004.75,575.50L1007.35,578.80L1004.75,582.10M1012.60,575.50L1015.20,578.80L1012.60,582.10M1020.45,575.50L1023.05,578.80L1020.45,582.10M1028.30,575.50L1030.90,578.80L1028.30,582.10M1036.15,575.50L1038.75,578.80L1036.15,582.10M1044.00,575.50L1046.60,578.80L1044.00,582.10M1051.85,575.50L1054.45,578.80L1051.85,582.10M1059.70,575.50L1062.30,578.80L1059.70,582.10M1067.55,575.50L1070.15,578.80L1067.55,582.10M1075.40,575.50L1078.00,578.80L1075.40,582.10M1083.25,575.50L1085.85,578.80L1083.25,582.10M1091.10,575.50L1093.70,578.80L1091.10,582.10M1098.95,575.50L1101.55,578.80L1098.95,582.10M1106.80,575.50L1109.40,578.80L1106.80,582.10M1114.65,575.50L1117.25,578.80L1114.65,582.10M1122.50,575.50L1125.10,578.80L1122.50,582.10M1130.35,575.50L1132.95,578.80L1130.35,582.10M1138.20,575.50L1140.80,578.80L1138.20,582.10M1146.05,575.50L1148.65,578.80L1146.05,582.10M1153.90,575.50L1156.50,578.80L1153.90,582.10M1169.60,575.50L1172.20,578.80L1169.60,582.10M1177.45,575.50L1180.05,578.80L1177.45,582.10M1185.30,575.50L1187.90,578.80L1185.30,582.10" fill="none" stroke="#ffffff" stroke-width="1.7"/>
<text x="126.50" y="615.30" font-size="17" fill="#111" text-anchor="end" stroke="#111" stroke-width="0.35">Human Net</text>
<text x="665.50" y="601.40" font-size="17" fill="#000" text-anchor="middle" stroke="#000" stroke-width="0.35">Human (Feb. 2009 (GRCh37/hg19)), Chain and Net Alignments</text>
<rect x="131.00" y="607.65" width="1069.00" height="1.50" fill="#f8c8c9"/>
<path d="M134.00,605.80L136.60,608.40L134.00,611.00M165.40,605.80L168.00,608.40L165.40,611.00M173.25,605.80L175.85,608.40L173.25,611.00M181.10,605.80L183.70,608.40L181.10,611.00M1178.05,605.80L1180.65,608.40L1178.05,611.00" fill="none" stroke="#f8c8c9" stroke-width="1.3"/>
<rect x="130.50" y="601.70" width="1.60" height="13.40" fill="#2f8f2f"/>
<rect x="136.80" y="601.70" width="1.20" height="13.40" fill="#f8c8c9"/>
<rect x="169.40" y="601.70" width="1.20" height="13.40" fill="#f8c8c9"/>
<rect x="145.30" y="601.70" width="6.70" height="13.40" fill="#f8c8c9"/>
<rect x="158.00" y="601.70" width="5.30" height="13.40" fill="#f8c8c9"/>
<rect x="192.00" y="601.70" width="913.50" height="13.40" fill="#f8c8c9"/>
<rect x="1109.10" y="601.70" width="14.90" height="13.40" fill="#f8c8c9"/>
<rect x="1128.40" y="601.70" width="22.40" height="13.40" fill="#f8c8c9"/>
<rect x="1153.30" y="601.70" width="19.60" height="13.40" fill="#f8c8c9"/>
<rect x="1185.20" y="601.70" width="4.80" height="13.40" fill="#f8c8c9"/>
<rect x="1193.80" y="601.70" width="6.20" height="13.40" fill="#f8c8c9"/>
<path d="M149.10,605.10L151.70,608.40L149.10,611.70M196.20,605.10L198.80,608.40L196.20,611.70M204.05,605.10L206.65,608.40L204.05,611.70M211.90,605.10L214.50,608.40L211.90,611.70M219.75,605.10L222.35,608.40L219.75,611.70M227.60,605.10L230.20,608.40L227.60,611.70M235.45,605.10L238.05,608.40L235.45,611.70M243.30,605.10L245.90,608.40L243.30,611.70M251.15,605.10L253.75,608.40L251.15,611.70M259.00,605.10L261.60,608.40L259.00,611.70M266.85,605.10L269.45,608.40L266.85,611.70M274.70,605.10L277.30,608.40L274.70,611.70M282.55,605.10L285.15,608.40L282.55,611.70M290.40,605.10L293.00,608.40L290.40,611.70M298.25,605.10L300.85,608.40L298.25,611.70M306.10,605.10L308.70,608.40L306.10,611.70M313.95,605.10L316.55,608.40L313.95,611.70M321.80,605.10L324.40,608.40L321.80,611.70M329.65,605.10L332.25,608.40L329.65,611.70M337.50,605.10L340.10,608.40L337.50,611.70M345.35,605.10L347.95,608.40L345.35,611.70M353.20,605.10L355.80,608.40L353.20,611.70M361.05,605.10L363.65,608.40L361.05,611.70M368.90,605.10L371.50,608.40L368.90,611.70M376.75,605.10L379.35,608.40L376.75,611.70M384.60,605.10L387.20,608.40L384.60,611.70M392.45,605.10L395.05,608.40L392.45,611.70M400.30,605.10L402.90,608.40L400.30,611.70M408.15,605.10L410.75,608.40L408.15,611.70M416.00,605.10L418.60,608.40L416.00,611.70M423.85,605.10L426.45,608.40L423.85,611.70M431.70,605.10L434.30,608.40L431.70,611.70M439.55,605.10L442.15,608.40L439.55,611.70M447.40,605.10L450.00,608.40L447.40,611.70M455.25,605.10L457.85,608.40L455.25,611.70M463.10,605.10L465.70,608.40L463.10,611.70M470.95,605.10L473.55,608.40L470.95,611.70M478.80,605.10L481.40,608.40L478.80,611.70M486.65,605.10L489.25,608.40L486.65,611.70M494.50,605.10L497.10,608.40L494.50,611.70M502.35,605.10L504.95,608.40L502.35,611.70M510.20,605.10L512.80,608.40L510.20,611.70M518.05,605.10L520.65,608.40L518.05,611.70M525.90,605.10L528.50,608.40L525.90,611.70M533.75,605.10L536.35,608.40L533.75,611.70M541.60,605.10L544.20,608.40L541.60,611.70M549.45,605.10L552.05,608.40L549.45,611.70M557.30,605.10L559.90,608.40L557.30,611.70M565.15,605.10L567.75,608.40L565.15,611.70M573.00,605.10L575.60,608.40L573.00,611.70M580.85,605.10L583.45,608.40L580.85,611.70M588.70,605.10L591.30,608.40L588.70,611.70M596.55,605.10L599.15,608.40L596.55,611.70M604.40,605.10L607.00,608.40L604.40,611.70M612.25,605.10L614.85,608.40L612.25,611.70M620.10,605.10L622.70,608.40L620.10,611.70M627.95,605.10L630.55,608.40L627.95,611.70M635.80,605.10L638.40,608.40L635.80,611.70M643.65,605.10L646.25,608.40L643.65,611.70M651.50,605.10L654.10,608.40L651.50,611.70M659.35,605.10L661.95,608.40L659.35,611.70M667.20,605.10L669.80,608.40L667.20,611.70M675.05,605.10L677.65,608.40L675.05,611.70M682.90,605.10L685.50,608.40L682.90,611.70M690.75,605.10L693.35,608.40L690.75,611.70M698.60,605.10L701.20,608.40L698.60,611.70M706.45,605.10L709.05,608.40L706.45,611.70M714.30,605.10L716.90,608.40L714.30,611.70M722.15,605.10L724.75,608.40L722.15,611.70M730.00,605.10L732.60,608.40L730.00,611.70M737.85,605.10L740.45,608.40L737.85,611.70M745.70,605.10L748.30,608.40L745.70,611.70M753.55,605.10L756.15,608.40L753.55,611.70M761.40,605.10L764.00,608.40L761.40,611.70M769.25,605.10L771.85,608.40L769.25,611.70M777.10,605.10L779.70,608.40L777.10,611.70M784.95,605.10L787.55,608.40L784.95,611.70M792.80,605.10L795.40,608.40L792.80,611.70M800.65,605.10L803.25,608.40L800.65,611.70M808.50,605.10L811.10,608.40L808.50,611.70M816.35,605.10L818.95,608.40L816.35,611.70M824.20,605.10L826.80,608.40L824.20,611.70M832.05,605.10L834.65,608.40L832.05,611.70M839.90,605.10L842.50,608.40L839.90,611.70M847.75,605.10L850.35,608.40L847.75,611.70M855.60,605.10L858.20,608.40L855.60,611.70M863.45,605.10L866.05,608.40L863.45,611.70M871.30,605.10L873.90,608.40L871.30,611.70M879.15,605.10L881.75,608.40L879.15,611.70M887.00,605.10L889.60,608.40L887.00,611.70M894.85,605.10L897.45,608.40L894.85,611.70M902.70,605.10L905.30,608.40L902.70,611.70M910.55,605.10L913.15,608.40L910.55,611.70M918.40,605.10L921.00,608.40L918.40,611.70M926.25,605.10L928.85,608.40L926.25,611.70M934.10,605.10L936.70,608.40L934.10,611.70M941.95,605.10L944.55,608.40L941.95,611.70M949.80,605.10L952.40,608.40L949.80,611.70M957.65,605.10L960.25,608.40L957.65,611.70M965.50,605.10L968.10,608.40L965.50,611.70M973.35,605.10L975.95,608.40L973.35,611.70M981.20,605.10L983.80,608.40L981.20,611.70M989.05,605.10L991.65,608.40L989.05,611.70M996.90,605.10L999.50,608.40L996.90,611.70M1004.75,605.10L1007.35,608.40L1004.75,611.70M1012.60,605.10L1015.20,608.40L1012.60,611.70M1020.45,605.10L1023.05,608.40L1020.45,611.70M1028.30,605.10L1030.90,608.40L1028.30,611.70M1036.15,605.10L1038.75,608.40L1036.15,611.70M1044.00,605.10L1046.60,608.40L1044.00,611.70M1051.85,605.10L1054.45,608.40L1051.85,611.70M1059.70,605.10L1062.30,608.40L1059.70,611.70M1067.55,605.10L1070.15,608.40L1067.55,611.70M1075.40,605.10L1078.00,608.40L1075.40,611.70M1083.25,605.10L1085.85,608.40L1083.25,611.70M1091.10,605.10L1093.70,608.40L1091.10,611.70M1098.95,605.10L1101.55,608.40L1098.95,611.70M1114.65,605.10L1117.25,608.40L1114.65,611.70M1130.35,605.10L1132.95,608.40L1130.35,611.70M1138.20,605.10L1140.80,608.40L1138.20,611.70M1146.05,605.10L1148.65,608.40L1146.05,611.70M1153.90,605.10L1156.50,608.40L1153.90,611.70M1161.75,605.10L1164.35,608.40L1161.75,611.70M1169.60,605.10L1172.20,608.40L1169.60,611.70" fill="none" stroke="#000000" stroke-width="1.7"/>
<text x="126.50" y="644.90" font-size="17" fill="#111" text-anchor="end" stroke="#111" stroke-width="0.35">Chimp Net</text>
<text x="665.50" y="631.00" font-size="17" fill="#000" text-anchor="middle" stroke="#000" stroke-width="0.35">Chimp (Oct. 2010 (CGSC 2.1.3/panTro3)), Chain and Net Alignments</text>
<rect x="131.00" y="637.25" width="1069.00" height="1.50" fill="#f8c8c9"/>
<path d="M134.00,635.40L136.60,638.00L134.00,640.60M165.40,635.40L168.00,638.00L165.40,640.60M173.25,635.40L175.85,638.00L173.25,640.60M181.10,635.40L183.70,638.00L181.10,640.60M1178.05,635.40L1180.65,638.00L1178.05,640.60" fill="none" stroke="#f8c8c9" stroke-width="1.3"/>
<rect x="130.50" y="631.30" width="1.60" height="13.40" fill="#2f8f2f"/>
<rect x="136.80" y="631.30" width="1.20" height="13.40" fill="#f8c8c9"/>
<rect x="169.40" y="631.30" width="1.20" height="13.40" fill="#f8c8c9"/>
<rect x="1184.40" y="631.30" width="1.20" height="13.40" fill="#f8c8c9"/>
<rect x="145.00" y="631.30" width="5.70" height="13.40" fill="#f8c8c9"/>
<rect x="158.00" y="631.30" width="5.30" height="13.40" fill="#f8c8c9"/>
<rect x="192.00" y="631.30" width="271.30" height="13.40" fill="#f8c8c9"/>
<rect x="468.30" y="631.30" width="682.50" height="13.40" fill="#f8c8c9"/>
<rect x="1153.30" y="631.30" width="10.60" height="13.40" fill="#f8c8c9"/>
<rect x="1166.20" y="631.30" width="6.70" height="13.40" fill="#f8c8c9"/>
<rect x="1185.20" y="631.30" width="3.10" height="13.40" fill="#f8c8c9"/>
<rect x="1192.30" y="631.30" width="5.80" height="13.40" fill="#f8c8c9"/>
<path d="M196.20,634.70L198.80,638.00L196.20,641.30M204.05,634.70L206.65,638.00L204.05,641.30M211.90,634.70L214.50,638.00L211.90,641.30M219.75,634.70L222.35,638.00L219.75,641.30M227.60,634.70L230.20,638.00L227.60,641.30M235.45,634.70L238.05,638.00L235.45,641.30M243.30,634.70L245.90,638.00L243.30,641.30M251.15,634.70L253.75,638.00L251.15,641.30M259.00,634.70L261.60,638.00L259.00,641.30M266.85,634.70L269.45,638.00L266.85,641.30M274.70,634.70L277.30,638.00L274.70,641.30M282.55,634.70L285.15,638.00L282.55,641.30M290.40,634.70L293.00,638.00L290.40,641.30M298.25,634.70L300.85,638.00L298.25,641.30M306.10,634.70L308.70,638.00L306.10,641.30M313.95,634.70L316.55,638.00L313.95,641.30M321.80,634.70L324.40,638.00L321.80,641.30M329.65,634.70L332.25,638.00L329.65,641.30M337.50,634.70L340.10,638.00L337.50,641.30M345.35,634.70L347.95,638.00L345.35,641.30M353.20,634.70L355.80,638.00L353.20,641.30M361.05,634.70L363.65,638.00L361.05,641.30M368.90,634.70L371.50,638.00L368.90,641.30M376.75,634.70L379.35,638.00L376.75,641.30M384.60,634.70L387.20,638.00L384.60,641.30M392.45,634.70L395.05,638.00L392.45,641.30M400.30,634.70L402.90,638.00L400.30,641.30M408.15,634.70L410.75,638.00L408.15,641.30M416.00,634.70L418.60,638.00L416.00,641.30M423.85,634.70L426.45,638.00L423.85,641.30M431.70,634.70L434.30,638.00L431.70,641.30M439.55,634.70L442.15,638.00L439.55,641.30M447.40,634.70L450.00,638.00L447.40,641.30M455.25,634.70L457.85,638.00L455.25,641.30M470.95,634.70L473.55,638.00L470.95,641.30M478.80,634.70L481.40,638.00L478.80,641.30M486.65,634.70L489.25,638.00L486.65,641.30M494.50,634.70L497.10,638.00L494.50,641.30M502.35,634.70L504.95,638.00L502.35,641.30M510.20,634.70L512.80,638.00L510.20,641.30M518.05,634.70L520.65,638.00L518.05,641.30M525.90,634.70L528.50,638.00L525.90,641.30M533.75,634.70L536.35,638.00L533.75,641.30M541.60,634.70L544.20,638.00L541.60,641.30M549.45,634.70L552.05,638.00L549.45,641.30M557.30,634.70L559.90,638.00L557.30,641.30M565.15,634.70L567.75,638.00L565.15,641.30M573.00,634.70L575.60,638.00L573.00,641.30M580.85,634.70L583.45,638.00L580.85,641.30M588.70,634.70L591.30,638.00L588.70,641.30M596.55,634.70L599.15,638.00L596.55,641.30M604.40,634.70L607.00,638.00L604.40,641.30M612.25,634.70L614.85,638.00L612.25,641.30M620.10,634.70L622.70,638.00L620.10,641.30M627.95,634.70L630.55,638.00L627.95,641.30M635.80,634.70L638.40,638.00L635.80,641.30M643.65,634.70L646.25,638.00L643.65,641.30M651.50,634.70L654.10,638.00L651.50,641.30M659.35,634.70L661.95,638.00L659.35,641.30M667.20,634.70L669.80,638.00L667.20,641.30M675.05,634.70L677.65,638.00L675.05,641.30M682.90,634.70L685.50,638.00L682.90,641.30M690.75,634.70L693.35,638.00L690.75,641.30M698.60,634.70L701.20,638.00L698.60,641.30M706.45,634.70L709.05,638.00L706.45,641.30M714.30,634.70L716.90,638.00L714.30,641.30M722.15,634.70L724.75,638.00L722.15,641.30M730.00,634.70L732.60,638.00L730.00,641.30M737.85,634.70L740.45,638.00L737.85,641.30M745.70,634.70L748.30,638.00L745.70,641.30M753.55,634.70L756.15,638.00L753.55,641.30M761.40,634.70L764.00,638.00L761.40,641.30M769.25,634.70L771.85,638.00L769.25,641.30M777.10,634.70L779.70,638.00L777.10,641.30M784.95,634.70L787.55,638.00L784.95,641.30M792.80,634.70L795.40,638.00L792.80,641.30M800.65,634.70L803.25,638.00L800.65,641.30M808.50,634.70L811.10,638.00L808.50,641.30M816.35,634.70L818.95,638.00L816.35,641.30M824.20,634.70L826.80,638.00L824.20,641.30M832.05,634.70L834.65,638.00L832.05,641.30M839.90,634.70L842.50,638.00L839.90,641.30M847.75,634.70L850.35,638.00L847.75,641.30M855.60,634.70L858.20,638.00L855.60,641.30M863.45,634.70L866.05,638.00L863.45,641.30M871.30,634.70L873.90,638.00L871.30,641.30M879.15,634.70L881.75,638.00L879.15,641.30M887.00,634.70L889.60,638.00L887.00,641.30M894.85,634.70L897.45,638.00L894.85,641.30M902.70,634.70L905.30,638.00L902.70,641.30M910.55,634.70L913.15,638.00L910.55,641.30M918.40,634.70L921.00,638.00L918.40,641.30M926.25,634.70L928.85,638.00L926.25,641.30M934.10,634.70L936.70,638.00L934.10,641.30M941.95,634.70L944.55,638.00L941.95,641.30M949.80,634.70L952.40,638.00L949.80,641.30M957.65,634.70L960.25,638.00L957.65,641.30M965.50,634.70L968.10,638.00L965.50,641.30M973.35,634.70L975.95,638.00L973.35,641.30M981.20,634.70L983.80,638.00L981.20,641.30M989.05,634.70L991.65,638.00L989.05,641.30M996.90,634.70L999.50,638.00L996.90,641.30M1004.75,634.70L1007.35,638.00L1004.75,641.30M1012.60,634.70L1015.20,638.00L1012.60,641.30M1020.45,634.70L1023.05,638.00L1020.45,641.30M1028.30,634.70L1030.90,638.00L1028.30,641.30M1036.15,634.70L1038.75,638.00L1036.15,641.30M1044.00,634.70L1046.60,638.00L1044.00,641.30M1051.85,634.70L1054.45,638.00L1051.85,641.30M1059.70,634.70L1062.30,638.00L1059.70,641.30M1067.55,634.70L1070.15,638.00L1067.55,641.30M1075.40,634.70L1078.00,638.00L1075.40,641.30M1083.25,634.70L1085.85,638.00L1083.25,641.30M1091.10,634.70L1093.70,638.00L1091.10,641.30M1098.95,634.70L1101.55,638.00L1098.95,641.30M1106.80,634.70L1109.40,638.00L1106.80,641.30M1114.65,634.70L1117.25,638.00L1114.65,641.30M1122.50,634.70L1125.10,638.00L1122.50,641.30M1130.35,634.70L1132.95,638.00L1130.35,641.30M1138.20,634.70L1140.80,638.00L1138.20,641.30M1146.05,634.70L1148.65,638.00L1146.05,641.30M1153.90,634.70L1156.50,638.00L1153.90,641.30M1169.60,634.70L1172.20,638.00L1169.60,641.30M1193.15,634.70L1195.75,638.00L1193.15,641.30" fill="none" stroke="#000000" stroke-width="1.7"/>
<text x="126.50" y="674.50" font-size="17" fill="#111" text-anchor="end" stroke="#111" stroke-width="0.35">Orangutan Net</text>
<text x="665.50" y="660.60" font-size="17" fill="#000" text-anchor="middle" stroke="#000" stroke-width="0.35">Orangutan (July 2007 (WUGSC 2.0.2/ponAbe2)), Chain and Net Alignments</text>
<rect x="131.00" y="666.85" width="1069.00" height="1.50" fill="#f8c8c9"/>
<path d="M136.95,665.00L134.35,667.60L136.95,670.20M168.35,665.00L165.75,667.60L168.35,670.20M176.20,665.00L173.60,667.60L176.20,670.20M184.05,665.00L181.45,667.60L184.05,670.20M466.65,665.00L464.05,667.60L466.65,670.20M1181.00,665.00L1178.40,667.60L1181.00,670.20" fill="none" stroke="#f8c8c9" stroke-width="1.3"/>
<rect x="130.50" y="660.90" width="1.60" height="13.40" fill="#2f8f2f"/>
<rect x="136.80" y="660.90" width="1.20" height="13.40" fill="#f8c8c9"/>
<rect x="169.40" y="660.90" width="1.20" height="13.40" fill="#f8c8c9"/>
<rect x="1036.20" y="660.90" width="1.60" height="13.40" fill="#66aa33"/>
<rect x="1184.40" y="660.90" width="1.20" height="13.40" fill="#f8c8c9"/>
<rect x="1189.40" y="660.90" width="1.20" height="13.40" fill="#f8c8c9"/>
<rect x="145.00" y="660.90" width="7.00" height="13.40" fill="#f8c8c9"/>
<rect x="158.00" y="660.90" width="5.30" height="13.40" fill="#f8c8c9"/>
<rect x="192.00" y="660.90" width="54.70" height="13.40" fill="#f8c8c9"/>
<rect x="251.70" y="660.90" width="211.60" height="13.40" fill="#f8c8c9"/>
<rect x="468.30" y="660.90" width="189.20" height="13.40" fill="#f8c8c9"/>
<rect x="657.50" y="660.90" width="116.00" height="13.40" fill="#f8c8c9"/>
<rect x="780.00" y="660.90" width="343.75" height="13.40" fill="#f8c8c9"/>
<rect x="1126.00" y="660.90" width="24.80" height="13.40" fill="#f8c8c9"/>
<rect x="1153.30" y="660.90" width="10.60" height="13.40" fill="#f8c8c9"/>
<rect x="1165.50" y="660.90" width="7.40" height="13.40" fill="#f8c8c9"/>
<rect x="1185.20" y="660.90" width="3.10" height="13.40" fill="#f8c8c9"/>
<rect x="1192.30" y="660.90" width="2.70" height="13.40" fill="#f8c8c9"/>
<path d="M148.70,664.30L146.10,667.60L148.70,670.90M195.80,664.30L193.20,667.60L195.80,670.90M203.65,664.30L201.05,667.60L203.65,670.90M211.50,664.30L208.90,667.60L211.50,670.90M219.35,664.30L216.75,667.60L219.35,670.90M227.20,664.30L224.60,667.60L227.20,670.90M235.05,664.30L232.45,667.60L235.05,670.90M242.90,664.30L240.30,667.60L242.90,670.90M258.60,664.30L256.00,667.60L258.60,670.90M266.45,664.30L263.85,667.60L266.45,670.90M274.30,664.30L271.70,667.60L274.30,670.90M282.15,664.30L279.55,667.60L282.15,670.90M290.00,664.30L287.40,667.60L290.00,670.90M297.85,664.30L295.25,667.60L297.85,670.90M305.70,664.30L303.10,667.60L305.70,670.90M313.55,664.30L310.95,667.60L313.55,670.90M321.40,664.30L318.80,667.60L321.40,670.90M329.25,664.30L326.65,667.60L329.25,670.90M337.10,664.30L334.50,667.60L337.10,670.90M344.95,664.30L342.35,667.60L344.95,670.90M352.80,664.30L350.20,667.60L352.80,670.90M360.65,664.30L358.05,667.60L360.65,670.90M368.50,664.30L365.90,667.60L368.50,670.90M376.35,664.30L373.75,667.60L376.35,670.90M384.20,664.30L381.60,667.60L384.20,670.90M392.05,664.30L389.45,667.60L392.05,670.90M399.90,664.30L397.30,667.60L399.90,670.90M407.75,664.30L405.15,667.60L407.75,670.90M415.60,664.30L413.00,667.60L415.60,670.90M423.45,664.30L420.85,667.60L423.45,670.90M431.30,664.30L428.70,667.60L431.30,670.90M439.15,664.30L436.55,667.60L439.15,670.90M447.00,664.30L444.40,667.60L447.00,670.90M454.85,664.30L452.25,667.60L454.85,670.90M462.70,664.30L460.10,667.60L462.70,670.90M478.40,664.30L475.80,667.60L478.40,670.90M486.25,664.30L483.65,667.60L486.25,670.90M494.10,664.30L491.50,667.60L494.10,670.90M501.95,664.30L499.35,667.60L501.95,670.90M509.80,664.30L507.20,667.60L509.80,670.90M517.65,664.30L515.05,667.60L517.65,670.90M525.50,664.30L522.90,667.60L525.50,670.90M533.35,664.30L530.75,667.60L533.35,670.90M541.20,664.30L538.60,667.60L541.20,670.90M549.05,664.30L546.45,667.60L549.05,670.90M556.90,664.30L554.30,667.60L556.90,670.90M564.75,664.30L562.15,667.60L564.75,670.90M572.60,664.30L570.00,667.60L572.60,670.90M580.45,664.30L577.85,667.60L580.45,670.90M588.30,664.30L585.70,667.60L588.30,670.90M596.15,664.30L593.55,667.60L596.15,670.90M604.00,664.30L601.40,667.60L604.00,670.90M611.85,664.30L609.25,667.60L611.85,670.90M619.70,664.30L617.10,667.60L619.70,670.90M627.55,664.30L624.95,667.60L627.55,670.90M635.40,664.30L632.80,667.60L635.40,670.90M643.25,664.30L640.65,667.60L643.25,670.90M651.10,664.30L648.50,667.60L651.10,670.90M666.80,664.30L664.20,667.60L666.80,670.90M674.65,664.30L672.05,667.60L674.65,670.90M682.50,664.30L679.90,667.60L682.50,670.90M690.35,664.30L687.75,667.60L690.35,670.90M698.20,664.30L695.60,667.60L698.20,670.90M706.05,664.30L703.45,667.60L706.05,670.90M713.90,664.30L711.30,667.60L713.90,670.90M721.75,664.30L719.15,667.60L721.75,670.90M729.60,664.30L727.00,667.60L729.60,670.90M737.45,664.30L734.85,667.60L737.45,670.90M745.30,664.30L742.70,667.60L745.30,670.90M753.15,664.30L750.55,667.60L753.15,670.90M761.00,664.30L758.40,667.60L761.00,670.90M768.85,664.30L766.25,667.60L768.85,670.90M784.55,664.30L781.95,667.60L784.55,670.90M792.40,664.30L789.80,667.60L792.40,670.90M800.25,664.30L797.65,667.60L800.25,670.90M808.10,664.30L805.50,667.60L808.10,670.90M815.95,664.30L813.35,667.60L815.95,670.90M823.80,664.30L821.20,667.60L823.80,670.90M831.65,664.30L829.05,667.60L831.65,670.90M839.50,664.30L836.90,667.60L839.50,670.90M847.35,664.30L844.75,667.60L847.35,670.90M855.20,664.30L852.60,667.60L855.20,670.90M863.05,664.30L860.45,667.60L863.05,670.90M870.90,664.30L868.30,667.60L870.90,670.90M878.75,664.30L876.15,667.60L878.75,670.90M886.60,664.30L884.00,667.60L886.60,670.90M894.45,664.30L891.85,667.60L894.45,670.90M902.30,664.30L899.70,667.60L902.30,670.90M910.15,664.30L907.55,667.60L910.15,670.90M918.00,664.30L915.40,667.60L918.00,670.90M925.85,664.30L923.25,667.60L925.85,670.90M933.70,664.30L931.10,667.60L933.70,670.90M941.55,664.30L938.95,667.60L941.55,670.90M949.40,664.30L946.80,667.60L949.40,670.90M957.25,664.30L954.65,667.60L957.25,670.90M965.10,664.30L962.50,667.60L965.10,670.90M972.95,664.30L970.35,667.60L972.95,670.90M980.80,664.30L978.20,667.60L980.80,670.90M988.65,664.30L986.05,667.60L988.65,670.90M996.50,664.30L993.90,667.60L996.50,670.90M1004.35,664.30L1001.75,667.60L1004.35,670.90M1012.20,664.30L1009.60,667.60L1012.20,670.90M1020.05,664.30L1017.45,667.60L1020.05,670.90M1027.90,664.30L1025.30,667.60L1027.90,670.90M1035.75,664.30L1033.15,667.60L1035.75,670.90M1043.60,664.30L1041.00,667.60L1043.60,670.90M1051.45,664.30L1048.85,667.60L1051.45,670.90M1059.30,664.30L1056.70,667.60L1059.30,670.90M1067.15,664.30L1064.55,667.60L1067.15,670.90M1075.00,664.30L1072.40,667.60L1075.00,670.90M1082.85,664.30L1080.25,667.60L1082.85,670.90M1090.70,664.30L1088.10,667.60L1090.70,670.90M1098.55,664.30L1095.95,667.60L1098.55,670.90M1106.40,664.30L1103.80,667.60L1106.40,670.90M1114.25,664.30L1111.65,667.60L1114.25,670.90M1122.10,664.30L1119.50,667.60L1122.10,670.90M1129.95,664.30L1127.35,667.60L1129.95,670.90M1137.80,664.30L1135.20,667.60L1137.80,670.90M1145.65,664.30L1143.05,667.60L1145.65,670.90M1161.35,664.30L1158.75,667.60L1161.35,670.90M1169.20,664.30L1166.60,667.60L1169.20,670.90" fill="none" stroke="#000000" stroke-width="1.7"/>
<text x="126.50" y="704.10" font-size="17" fill="#111" text-anchor="end" stroke="#111" stroke-width="0.35">Rhesus Net</text>
<text x="665.50" y="690.20" font-size="17" fill="#000" text-anchor="middle" stroke="#000" stroke-width="0.35">Rhesus (Jan. 2006 (MGSC Merged 1.0/rheMac2)), Chain and Net Alignments</text>
<rect x="131.00" y="696.45" width="1069.00" height="1.50" fill="#9b9b28"/>
<path d="M168.35,694.60L165.75,697.20L168.35,699.80M176.20,694.60L173.60,697.20L176.20,699.80M184.05,694.60L181.45,697.20L184.05,699.80M788.50,694.60L785.90,697.20L788.50,699.80M796.35,694.60L793.75,697.20L796.35,699.80M1181.00,694.60L1178.40,697.20L1181.00,699.80" fill="none" stroke="#9b9b28" stroke-width="1.3"/>
<rect x="166.70" y="690.50" width="1.20" height="13.40" fill="#9b9b28"/>
<rect x="169.70" y="690.50" width="1.20" height="13.40" fill="#9b9b28"/>
<rect x="135.00" y="690.50" width="3.00" height="13.40" fill="#9b9b28"/>
<rect x="145.00" y="690.50" width="6.70" height="13.40" fill="#9b9b28"/>
<rect x="157.30" y="690.50" width="5.40" height="13.40" fill="#9b9b28"/>
<rect x="192.00" y="690.50" width="272.80" height="13.40" fill="#9b9b28"/>
<rect x="468.30" y="690.50" width="26.00" height="13.40" fill="#9b9b28"/>
<rect x="495.70" y="690.50" width="188.30" height="13.40" fill="#9b9b28"/>
<rect x="688.30" y="690.50" width="92.40" height="13.40" fill="#9b9b28"/>
<rect x="800.70" y="690.50" width="33.30" height="13.40" fill="#9b9b28"/>
<rect x="836.70" y="690.50" width="24.00" height="13.40" fill="#9b9b28"/>
<rect x="864.00" y="690.50" width="142.25" height="13.40" fill="#9b9b28"/>
<rect x="1011.25" y="690.50" width="94.25" height="13.40" fill="#9b9b28"/>
<rect x="1108.75" y="690.50" width="15.50" height="13.40" fill="#9b9b28"/>
<rect x="1127.50" y="690.50" width="22.50" height="13.40" fill="#9b9b28"/>
<rect x="1153.00" y="690.50" width="20.00" height="13.40" fill="#9b9b28"/>
<rect x="1185.00" y="690.50" width="5.00" height="13.40" fill="#9b9b28"/>
<rect x="1192.50" y="690.50" width="7.50" height="13.40" fill="#9b9b28"/>
<path d="M148.70,693.90L146.10,697.20L148.70,700.50M195.80,693.90L193.20,697.20L195.80,700.50M203.65,693.90L201.05,697.20L203.65,700.50M211.50,693.90L208.90,697.20L211.50,700.50M219.35,693.90L216.75,697.20L219.35,700.50M227.20,693.90L224.60,697.20L227.20,700.50M235.05,693.90L232.45,697.20L235.05,700.50M242.90,693.90L240.30,697.20L242.90,700.50M250.75,693.90L248.15,697.20L250.75,700.50M258.60,693.90L256.00,697.20L258.60,700.50M266.45,693.90L263.85,697.20L266.45,700.50M274.30,693.90L271.70,697.20L274.30,700.50M282.15,693.90L279.55,697.20L282.15,700.50M290.00,693.90L287.40,697.20L290.00,700.50M297.85,693.90L295.25,697.20L297.85,700.50M305.70,693.90L303.10,697.20L305.70,700.50M313.55,693.90L310.95,697.20L313.55,700.50M321.40,693.90L318.80,697.20L321.40,700.50M329.25,693.90L326.65,697.20L329.25,700.50M337.10,693.90L334.50,697.20L337.10,700.50M344.95,693.90L342.35,697.20L344.95,700.50M352.80,693.90L350.20,697.20L352.80,700.50M360.65,693.90L358.05,697.20L360.65,700.50M368.50,693.90L365.90,697.20L368.50,700.50M376.35,693.90L373.75,697.20L376.35,700.50M384.20,693.90L381.60,697.20L384.20,700.50M392.05,693.90L389.45,697.20L392.05,700.50M399.90,693.90L397.30,697.20L399.90,700.50M407.75,693.90L405.15,697.20L407.75,700.50M415.60,693.90L413.00,697.20L415.60,700.50M423.45,693.90L420.85,697.20L423.45,700.50M431.30,693.90L428.70,697.20L431.30,700.50M439.15,693.90L436.55,697.20L439.15,700.50M447.00,693.90L444.40,697.20L447.00,700.50M454.85,693.90L452.25,697.20L454.85,700.50M462.70,693.90L460.10,697.20L462.70,700.50M478.40,693.90L475.80,697.20L478.40,700.50M486.25,693.90L483.65,697.20L486.25,700.50M494.10,693.90L491.50,697.20L494.10,700.50M501.95,693.90L499.35,697.20L501.95,700.50M509.80,693.90L507.20,697.20L509.80,700.50M517.65,693.90L515.05,697.20L517.65,700.50M525.50,693.90L522.90,697.20L525.50,700.50M533.35,693.90L530.75,697.20L533.35,700.50M541.20,693.90L538.60,697.20L541.20,700.50M549.05,693.90L546.45,697.20L549.05,700.50M556.90,693.90L554.30,697.20L556.90,700.50M564.75,693.90L562.15,697.20L564.75,700.50M572.60,693.90L570.00,697.20L572.60,700.50M580.45,693.90L577.85,697.20L580.45,700.50M588.30,693.90L585.70,697.20L588.30,700.50M596.15,693.90L593.55,697.20L596.15,700.50M604.00,693.90L601.40,697.20L604.00,700.50M611.85,693.90L609.25,697.20L611.85,700.50M619.70,693.90L617.10,697.20L619.70,700.50M627.55,693.90L624.95,697.20L627.55,700.50M635.40,693.90L632.80,697.20L635.40,700.50M643.25,693.90L640.65,697.20L643.25,700.50M651.10,693.90L648.50,697.20L651.10,700.50M658.95,693.90L656.35,697.20L658.95,700.50M666.80,693.90L664.20,697.20L666.80,700.50M674.65,693.90L672.05,697.20L674.65,700.50M682.50,693.90L679.90,697.20L682.50,700.50M698.20,693.90L695.60,697.20L698.20,700.50M706.05,693.90L703.45,697.20L706.05,700.50M713.90,693.90L711.30,697.20L713.90,700.50M721.75,693.90L719.15,697.20L721.75,700.50M729.60,693.90L727.00,697.20L729.60,700.50M737.45,693.90L734.85,697.20L737.45,700.50M745.30,693.90L742.70,697.20L745.30,700.50M753.15,693.90L750.55,697.20L753.15,700.50M761.00,693.90L758.40,697.20L761.00,700.50M768.85,693.90L766.25,697.20L768.85,700.50M776.70,693.90L774.10,697.20L776.70,700.50M808.10,693.90L805.50,697.20L808.10,700.50M815.95,693.90L813.35,697.20L815.95,700.50M823.80,693.90L821.20,697.20L823.80,700.50M831.65,693.90L829.05,697.20L831.65,700.50M847.35,693.90L844.75,697.20L847.35,700.50M855.20,693.90L852.60,697.20L855.20,700.50M870.90,693.90L868.30,697.20L870.90,700.50M878.75,693.90L876.15,697.20L878.75,700.50M886.60,693.90L884.00,697.20L886.60,700.50M894.45,693.90L891.85,697.20L894.45,700.50M902.30,693.90L899.70,697.20L902.30,700.50M910.15,693.90L907.55,697.20L910.15,700.50M918.00,693.90L915.40,697.20L918.00,700.50M925.85,693.90L923.25,697.20L925.85,700.50M933.70,693.90L931.10,697.20L933.70,700.50M941.55,693.90L938.95,697.20L941.55,700.50M949.40,693.90L946.80,697.20L949.40,700.50M957.25,693.90L954.65,697.20L957.25,700.50M965.10,693.90L962.50,697.20L965.10,700.50M972.95,693.90L970.35,697.20L972.95,700.50M980.80,693.90L978.20,697.20L980.80,700.50M988.65,693.90L986.05,697.20L988.65,700.50M996.50,693.90L993.90,697.20L996.50,700.50M1004.35,693.90L1001.75,697.20L1004.35,700.50M1020.05,693.90L1017.45,697.20L1020.05,700.50M1027.90,693.90L1025.30,697.20L1027.90,700.50M1035.75,693.90L1033.15,697.20L1035.75,700.50M1043.60,693.90L1041.00,697.20L1043.60,700.50M1051.45,693.90L1048.85,697.20L1051.45,700.50M1059.30,693.90L1056.70,697.20L1059.30,700.50M1067.15,693.90L1064.55,697.20L1067.15,700.50M1075.00,693.90L1072.40,697.20L1075.00,700.50M1082.85,693.90L1080.25,697.20L1082.85,700.50M1090.70,693.90L1088.10,697.20L1090.70,700.50M1098.55,693.90L1095.95,697.20L1098.55,700.50M1114.25,693.90L1111.65,697.20L1114.25,700.50M1122.10,693.90L1119.50,697.20L1122.10,700.50M1137.80,693.90L1135.20,697.20L1137.80,700.50M1145.65,693.90L1143.05,697.20L1145.65,700.50M1161.35,693.90L1158.75,697.20L1161.35,700.50M1169.20,693.90L1166.60,697.20L1169.20,700.50" fill="none" stroke="#ffffe0" stroke-width="1.7"/>
<rect x="495.90" y="690.50" width="7.90" height="13.40" fill="#ccee22"/>
<path d="M501.15,693.90L498.55,697.20L501.15,700.50" fill="none" stroke="#000" stroke-width="1.7"/>
<rect x="1032.50" y="690.50" width="4.50" height="13.40" fill="#ccf022"/>
<text x="126.50" y="733.70" font-size="17" fill="#111" text-anchor="end" stroke="#111" stroke-width="0.35">Marmoset Net</text>
<text x="665.50" y="719.80" font-size="17" fill="#000" text-anchor="middle" stroke="#000" stroke-width="0.35">Marmoset (March 2009 (WUGSC 3.2/calJac3)), Chain and Net Alignments</text>
<rect x="131.00" y="726.05" width="1069.00" height="1.50" fill="#f8a010"/>
<path d="M136.95,724.20L134.35,726.80L136.95,729.40M168.35,724.20L165.75,726.80L168.35,729.40M176.20,724.20L173.60,726.80L176.20,729.40M184.05,724.20L181.45,726.80L184.05,729.40M466.65,724.20L464.05,726.80L466.65,729.40M1173.15,724.20L1170.55,726.80L1173.15,729.40M1181.00,724.20L1178.40,726.80L1181.00,729.40M1188.85,724.20L1186.25,726.80L1188.85,729.40" fill="none" stroke="#f8a010" stroke-width="1.3"/>
<rect x="130.50" y="720.10" width="1.60" height="13.40" fill="#7a5a00"/>
<rect x="136.70" y="720.10" width="1.20" height="13.40" fill="#f8a010"/>
<rect x="166.70" y="720.10" width="1.20" height="13.40" fill="#f8a010"/>
<rect x="1184.40" y="720.10" width="1.20" height="13.40" fill="#f8a010"/>
<rect x="145.00" y="720.10" width="6.70" height="13.40" fill="#f8a010"/>
<rect x="157.30" y="720.10" width="5.40" height="13.40" fill="#f8a010"/>
<rect x="192.00" y="720.10" width="179.70" height="13.40" fill="#f8a010"/>
<rect x="376.70" y="720.10" width="86.60" height="13.40" fill="#f8a010"/>
<rect x="469.00" y="720.10" width="37.70" height="13.40" fill="#f8a010"/>
<rect x="510.70" y="720.10" width="112.00" height="13.40" fill="#f8a010"/>
<rect x="630.00" y="720.10" width="121.70" height="13.40" fill="#f8a010"/>
<rect x="754.00" y="720.10" width="48.70" height="13.40" fill="#f8a010"/>
<rect x="806.00" y="720.10" width="207.00" height="13.40" fill="#f8a010"/>
<rect x="1016.25" y="720.10" width="90.00" height="13.40" fill="#f8a010"/>
<rect x="1109.50" y="720.10" width="41.00" height="13.40" fill="#f8a010"/>
<rect x="1152.50" y="720.10" width="11.25" height="13.40" fill="#f8a010"/>
<rect x="1165.50" y="720.10" width="4.50" height="13.40" fill="#f8a010"/>
<rect x="1193.75" y="720.10" width="6.25" height="13.40" fill="#f8a010"/>
<path d="M148.70,723.50L146.10,726.80L148.70,730.10M195.80,723.50L193.20,726.80L195.80,730.10M203.65,723.50L201.05,726.80L203.65,730.10M211.50,723.50L208.90,726.80L211.50,730.10M219.35,723.50L216.75,726.80L219.35,730.10M227.20,723.50L224.60,726.80L227.20,730.10M235.05,723.50L232.45,726.80L235.05,730.10M242.90,723.50L240.30,726.80L242.90,730.10M250.75,723.50L248.15,726.80L250.75,730.10M258.60,723.50L256.00,726.80L258.60,730.10M266.45,723.50L263.85,726.80L266.45,730.10M274.30,723.50L271.70,726.80L274.30,730.10M282.15,723.50L279.55,726.80L282.15,730.10M290.00,723.50L287.40,726.80L290.00,730.10M297.85,723.50L295.25,726.80L297.85,730.10M305.70,723.50L303.10,726.80L305.70,730.10M313.55,723.50L310.95,726.80L313.55,730.10M321.40,723.50L318.80,726.80L321.40,730.10M329.25,723.50L326.65,726.80L329.25,730.10M337.10,723.50L334.50,726.80L337.10,730.10M344.95,723.50L342.35,726.80L344.95,730.10M352.80,723.50L350.20,726.80L352.80,730.10M360.65,723.50L358.05,726.80L360.65,730.10M368.50,723.50L365.90,726.80L368.50,730.10M384.20,723.50L381.60,726.80L384.20,730.10M392.05,723.50L389.45,726.80L392.05,730.10M399.90,723.50L397.30,726.80L399.90,730.10M407.75,723.50L405.15,726.80L407.75,730.10M415.60,723.50L413.00,726.80L415.60,730.10M423.45,723.50L420.85,726.80L423.45,730.10M431.30,723.50L428.70,726.80L431.30,730.10M439.15,723.50L436.55,726.80L439.15,730.10M447.00,723.50L444.40,726.80L447.00,730.10M454.85,723.50L452.25,726.80L454.85,730.10M462.70,723.50L460.10,726.80L462.70,730.10M478.40,723.50L475.80,726.80L478.40,730.10M486.25,723.50L483.65,726.80L486.25,730.10M494.10,723.50L491.50,726.80L494.10,730.10M501.95,723.50L499.35,726.80L501.95,730.10M517.65,723.50L515.05,726.80L517.65,730.10M525.50,723.50L522.90,726.80L525.50,730.10M533.35,723.50L530.75,726.80L533.35,730.10M541.20,723.50L538.60,726.80L541.20,730.10M549.05,723.50L546.45,726.80L549.05,730.10M556.90,723.50L554.30,726.80L556.90,730.10M564.75,723.50L562.15,726.80L564.75,730.10M572.60,723.50L570.00,726.80L572.60,730.10M580.45,723.50L577.85,726.80L580.45,730.10M588.30,723.50L585.70,726.80L588.30,730.10M596.15,723.50L593.55,726.80L596.15,730.10M604.00,723.50L601.40,726.80L604.00,730.10M611.85,723.50L609.25,726.80L611.85,730.10M619.70,723.50L617.10,726.80L619.70,730.10M635.40,723.50L632.80,726.80L635.40,730.10M643.25,723.50L640.65,726.80L643.25,730.10M651.10,723.50L648.50,726.80L651.10,730.10M658.95,723.50L656.35,726.80L658.95,730.10M666.80,723.50L664.20,726.80L666.80,730.10M674.65,723.50L672.05,726.80L674.65,730.10M682.50,723.50L679.90,726.80L682.50,730.10M690.35,723.50L687.75,726.80L690.35,730.10M698.20,723.50L695.60,726.80L698.20,730.10M706.05,723.50L703.45,726.80L706.05,730.10M713.90,723.50L711.30,726.80L713.90,730.10M721.75,723.50L719.15,726.80L721.75,730.10M729.60,723.50L727.00,726.80L729.60,730.10M737.45,723.50L734.85,726.80L737.45,730.10M745.30,723.50L742.70,726.80L745.30,730.10M761.00,723.50L758.40,726.80L761.00,730.10M768.85,723.50L766.25,726.80L768.85,730.10M776.70,723.50L774.10,726.80L776.70,730.10M784.55,723.50L781.95,726.80L784.55,730.10M792.40,723.50L789.80,726.80L792.40,730.10M800.25,723.50L797.65,726.80L800.25,730.10M815.95,723.50L813.35,726.80L815.95,730.10M823.80,723.50L821.20,726.80L823.80,730.10M831.65,723.50L829.05,726.80L831.65,730.10M839.50,723.50L836.90,726.80L839.50,730.10M847.35,723.50L844.75,726.80L847.35,730.10M855.20,723.50L852.60,726.80L855.20,730.10M863.05,723.50L860.45,726.80L863.05,730.10M870.90,723.50L868.30,726.80L870.90,730.10M878.75,723.50L876.15,726.80L878.75,730.10M886.60,723.50L884.00,726.80L886.60,730.10M894.45,723.50L891.85,726.80L894.45,730.10M902.30,723.50L899.70,726.80L902.30,730.10M910.15,723.50L907.55,726.80L910.15,730.10M918.00,723.50L915.40,726.80L918.00,730.10M925.85,723.50L923.25,726.80L925.85,730.10M933.70,723.50L931.10,726.80L933.70,730.10M941.55,723.50L938.95,726.80L941.55,730.10M949.40,723.50L946.80,726.80L949.40,730.10M957.25,723.50L954.65,726.80L957.25,730.10M965.10,723.50L962.50,726.80L965.10,730.10M972.95,723.50L970.35,726.80L972.95,730.10M980.80,723.50L978.20,726.80L980.80,730.10M988.65,723.50L986.05,726.80L988.65,730.10M996.50,723.50L993.90,726.80L996.50,730.10M1004.35,723.50L1001.75,726.80L1004.35,730.10M1012.20,723.50L1009.60,726.80L1012.20,730.10M1020.05,723.50L1017.45,726.80L1020.05,730.10M1027.90,723.50L1025.30,726.80L1027.90,730.10M1035.75,723.50L1033.15,726.80L1035.75,730.10M1043.60,723.50L1041.00,726.80L1043.60,730.10M1051.45,723.50L1048.85,726.80L1051.45,730.10M1059.30,723.50L1056.70,726.80L1059.30,730.10M1067.15,723.50L1064.55,726.80L1067.15,730.10M1075.00,723.50L1072.40,726.80L1075.00,730.10M1082.85,723.50L1080.25,726.80L1082.85,730.10M1090.70,723.50L1088.10,726.80L1090.70,730.10M1098.55,723.50L1095.95,726.80L1098.55,730.10M1106.40,723.50L1103.80,726.80L1106.40,730.10M1114.25,723.50L1111.65,726.80L1114.25,730.10M1122.10,723.50L1119.50,726.80L1122.10,730.10M1129.95,723.50L1127.35,726.80L1129.95,730.10M1137.80,723.50L1135.20,726.80L1137.80,730.10M1145.65,723.50L1143.05,726.80L1145.65,730.10M1161.35,723.50L1158.75,726.80L1161.35,730.10M1169.20,723.50L1166.60,726.80L1169.20,730.10" fill="none" stroke="#000000" stroke-width="1.7"/>
<rect x="506.70" y="720.10" width="1.20" height="13.40" fill="#e02020"/>
<rect x="588.80" y="720.10" width="1.40" height="13.40" fill="#e02020"/>
<rect x="1033.00" y="720.10" width="2.00" height="13.40" fill="#e040a0"/>
<text x="126.50" y="763.30" font-size="17" fill="#111" text-anchor="end" stroke="#111" stroke-width="0.35">Dog Net</text>
<text x="665.50" y="749.40" font-size="17" fill="#000" text-anchor="middle" stroke="#000" stroke-width="0.35">Dog (May 2005 (Broad/canFam2)), Chain and Net Alignments</text>
<rect x="131.00" y="755.65" width="1069.00" height="1.50" fill="#0000cc"/>
<path d="M134.00,753.80L136.60,756.40L134.00,759.00M165.40,753.80L168.00,756.40L165.40,759.00M1178.05,753.80L1180.65,756.40L1178.05,759.00M1185.90,753.80L1188.50,756.40L1185.90,759.00M1193.75,753.80L1196.35,756.40L1193.75,759.00" fill="none" stroke="#0000cc" stroke-width="1.3"/>
<rect x="161.70" y="749.70" width="1.20" height="13.40" fill="#0000cc"/>
<rect x="166.70" y="749.70" width="1.20" height="13.40" fill="#0000cc"/>
<rect x="169.60" y="749.70" width="1.20" height="13.40" fill="#0000cc"/>
<rect x="144.00" y="749.70" width="7.80" height="13.40" fill="#0000cc"/>
<rect x="157.20" y="749.70" width="2.90" height="13.40" fill="#0000cc"/>
<rect x="174.20" y="749.70" width="3.50" height="13.40" fill="#0000cc"/>
<rect x="181.50" y="749.70" width="3.10" height="13.40" fill="#0000cc"/>
<rect x="192.00" y="749.70" width="27.30" height="13.40" fill="#0000cc"/>
<rect x="221.70" y="749.70" width="812.05" height="13.40" fill="#0000cc"/>
<rect x="1037.50" y="749.70" width="68.00" height="13.40" fill="#0000cc"/>
<rect x="1108.75" y="749.70" width="15.00" height="13.40" fill="#0000cc"/>
<rect x="1128.00" y="749.70" width="22.00" height="13.40" fill="#0000cc"/>
<rect x="1153.00" y="749.70" width="20.00" height="13.40" fill="#0000cc"/>
<path d="M149.10,753.10L151.70,756.40L149.10,759.70M196.20,753.10L198.80,756.40L196.20,759.70M204.05,753.10L206.65,756.40L204.05,759.70M211.90,753.10L214.50,756.40L211.90,759.70M227.60,753.10L230.20,756.40L227.60,759.70M235.45,753.10L238.05,756.40L235.45,759.70M243.30,753.10L245.90,756.40L243.30,759.70M251.15,753.10L253.75,756.40L251.15,759.70M259.00,753.10L261.60,756.40L259.00,759.70M266.85,753.10L269.45,756.40L266.85,759.70M274.70,753.10L277.30,756.40L274.70,759.70M282.55,753.10L285.15,756.40L282.55,759.70M290.40,753.10L293.00,756.40L290.40,759.70M298.25,753.10L300.85,756.40L298.25,759.70M306.10,753.10L308.70,756.40L306.10,759.70M313.95,753.10L316.55,756.40L313.95,759.70M321.80,753.10L324.40,756.40L321.80,759.70M329.65,753.10L332.25,756.40L329.65,759.70M337.50,753.10L340.10,756.40L337.50,759.70M345.35,753.10L347.95,756.40L345.35,759.70M353.20,753.10L355.80,756.40L353.20,759.70M361.05,753.10L363.65,756.40L361.05,759.70M368.90,753.10L371.50,756.40L368.90,759.70M376.75,753.10L379.35,756.40L376.75,759.70M384.60,753.10L387.20,756.40L384.60,759.70M392.45,753.10L395.05,756.40L392.45,759.70M400.30,753.10L402.90,756.40L400.30,759.70M408.15,753.10L410.75,756.40L408.15,759.70M416.00,753.10L418.60,756.40L416.00,759.70M423.85,753.10L426.45,756.40L423.85,759.70M431.70,753.10L434.30,756.40L431.70,759.70M439.55,753.10L442.15,756.40L439.55,759.70M447.40,753.10L450.00,756.40L447.40,759.70M455.25,753.10L457.85,756.40L455.25,759.70M463.10,753.10L465.70,756.40L463.10,759.70M470.95,753.10L473.55,756.40L470.95,759.70M478.80,753.10L481.40,756.40L478.80,759.70M486.65,753.10L489.25,756.40L486.65,759.70M494.50,753.10L497.10,756.40L494.50,759.70M502.35,753.10L504.95,756.40L502.35,759.70M510.20,753.10L512.80,756.40L510.20,759.70M518.05,753.10L520.65,756.40L518.05,759.70M525.90,753.10L528.50,756.40L525.90,759.70M533.75,753.10L536.35,756.40L533.75,759.70M541.60,753.10L544.20,756.40L541.60,759.70M549.45,753.10L552.05,756.40L549.45,759.70M557.30,753.10L559.90,756.40L557.30,759.70M565.15,753.10L567.75,756.40L565.15,759.70M573.00,753.10L575.60,756.40L573.00,759.70M580.85,753.10L583.45,756.40L580.85,759.70M588.70,753.10L591.30,756.40L588.70,759.70M596.55,753.10L599.15,756.40L596.55,759.70M604.40,753.10L607.00,756.40L604.40,759.70M612.25,753.10L614.85,756.40L612.25,759.70M620.10,753.10L622.70,756.40L620.10,759.70M627.95,753.10L630.55,756.40L627.95,759.70M635.80,753.10L638.40,756.40L635.80,759.70M643.65,753.10L646.25,756.40L643.65,759.70M651.50,753.10L654.10,756.40L651.50,759.70M659.35,753.10L661.95,756.40L659.35,759.70M667.20,753.10L669.80,756.40L667.20,759.70M675.05,753.10L677.65,756.40L675.05,759.70M682.90,753.10L685.50,756.40L682.90,759.70M690.75,753.10L693.35,756.40L690.75,759.70M698.60,753.10L701.20,756.40L698.60,759.70M706.45,753.10L709.05,756.40L706.45,759.70M714.30,753.10L716.90,756.40L714.30,759.70M722.15,753.10L724.75,756.40L722.15,759.70M730.00,753.10L732.60,756.40L730.00,759.70M737.85,753.10L740.45,756.40L737.85,759.70M745.70,753.10L748.30,756.40L745.70,759.70M753.55,753.10L756.15,756.40L753.55,759.70M761.40,753.10L764.00,756.40L761.40,759.70M769.25,753.10L771.85,756.40L769.25,759.70M777.10,753.10L779.70,756.40L777.10,759.70M784.95,753.10L787.55,756.40L784.95,759.70M792.80,753.10L795.40,756.40L792.80,759.70M800.65,753.10L803.25,756.40L800.65,759.70M808.50,753.10L811.10,756.40L808.50,759.70M816.35,753.10L818.95,756.40L816.35,759.70M824.20,753.10L826.80,756.40L824.20,759.70M832.05,753.10L834.65,756.40L832.05,759.70M839.90,753.10L842.50,756.40L839.90,759.70M847.75,753.10L850.35,756.40L847.75,759.70M855.60,753.10L858.20,756.40L855.60,759.70M863.45,753.10L866.05,756.40L863.45,759.70M871.30,753.10L873.90,756.40L871.30,759.70M879.15,753.10L881.75,756.40L879.15,759.70M887.00,753.10L889.60,756.40L887.00,759.70M894.85,753.10L897.45,756.40L894.85,759.70M902.70,753.10L905.30,756.40L902.70,759.70M910.55,753.10L913.15,756.40L910.55,759.70M918.40,753.10L921.00,756.40L918.40,759.70M926.25,753.10L928.85,756.40L926.25,759.70M934.10,753.10L936.70,756.40L934.10,759.70M941.95,753.10L944.55,756.40L941.95,759.70M949.80,753.10L952.40,756.40L949.80,759.70M957.65,753.10L960.25,756.40L957.65,759.70M965.50,753.10L968.10,756.40L965.50,759.70M973.35,753.10L975.95,756.40L973.35,759.70M981.20,753.10L983.80,756.40L981.20,759.70M989.05,753.10L991.65,756.40L989.05,759.70M996.90,753.10L999.50,756.40L996.90,759.70M1004.75,753.10L1007.35,756.40L1004.75,759.70M1012.60,753.10L1015.20,756.40L1012.60,759.70M1020.45,753.10L1023.05,756.40L1020.45,759.70M1028.30,753.10L1030.90,756.40L1028.30,759.70M1044.00,753.10L1046.60,756.40L1044.00,759.70M1051.85,753.10L1054.45,756.40L1051.85,759.70M1059.70,753.10L1062.30,756.40L1059.70,759.70M1067.55,753.10L1070.15,756.40L1067.55,759.70M1075.40,753.10L1078.00,756.40L1075.40,759.70M1083.25,753.10L1085.85,756.40L1083.25,759.70M1091.10,753.10L1093.70,756.40L1091.10,759.70M1098.95,753.10L1101.55,756.40L1098.95,759.70M1114.65,753.10L1117.25,756.40L1114.65,759.70M1130.35,753.10L1132.95,756.40L1130.35,759.70M1138.20,753.10L1140.80,756.40L1138.20,759.70M1146.05,753.10L1148.65,756.40L1146.05,759.70M1153.90,753.10L1156.50,756.40L1153.90,759.70M1161.75,753.10L1164.35,756.40L1161.75,759.70M1169.60,753.10L1172.20,756.40L1169.60,759.70" fill="none" stroke="#ffffff" stroke-width="1.7"/>
<rect x="1034.30" y="749.70" width="1.40" height="13.40" fill="#404020"/>
<text x="126.50" y="792.90" font-size="17" fill="#111" text-anchor="end" stroke="#111" stroke-width="0.35">Cow Net</text>
<text x="665.50" y="779.00" font-size="17" fill="#000" text-anchor="middle" stroke="#000" stroke-width="0.35">Cow (Nov. 2009 (Bos_taurus_UMD_3.1/bosTau6)), Chain and Net Alignments</text>
<rect x="131.00" y="785.25" width="1069.00" height="1.50" fill="#d00000"/>
<path d="M136.95,783.40L134.35,786.00L136.95,788.60M168.35,783.40L165.75,786.00L168.35,788.60M176.20,783.40L173.60,786.00L176.20,788.60M184.05,783.40L181.45,786.00L184.05,788.60M1110.35,783.40L1107.75,786.00L1110.35,788.60M1173.15,783.40L1170.55,786.00L1173.15,788.60M1181.00,783.40L1178.40,786.00L1181.00,788.60M1188.85,783.40L1186.25,786.00L1188.85,788.60" fill="none" stroke="#d00000" stroke-width="1.3"/>
<rect x="163.10" y="779.30" width="1.20" height="13.40" fill="#d00000"/>
<rect x="182.00" y="779.30" width="1.20" height="13.40" fill="#d00000"/>
<rect x="1184.40" y="779.30" width="1.20" height="13.40" fill="#d00000"/>
<rect x="1189.40" y="779.30" width="1.20" height="13.40" fill="#d00000"/>
<rect x="144.00" y="779.30" width="8.00" height="13.40" fill="#d00000"/>
<rect x="157.70" y="779.30" width="2.20" height="13.40" fill="#d00000"/>
<rect x="192.00" y="779.30" width="272.30" height="13.40" fill="#d00000"/>
<rect x="468.30" y="779.30" width="524.70" height="13.40" fill="#d00000"/>
<rect x="994.00" y="779.30" width="109.75" height="13.40" fill="#d00000"/>
<rect x="1112.00" y="779.30" width="11.75" height="13.40" fill="#d00000"/>
<rect x="1126.25" y="779.30" width="37.50" height="13.40" fill="#d00000"/>
<rect x="1165.50" y="779.30" width="4.50" height="13.40" fill="#d00000"/>
<rect x="1193.75" y="779.30" width="6.25" height="13.40" fill="#d00000"/>
<path d="M148.70,782.70L146.10,786.00L148.70,789.30M195.80,782.70L193.20,786.00L195.80,789.30M203.65,782.70L201.05,786.00L203.65,789.30M211.50,782.70L208.90,786.00L211.50,789.30M219.35,782.70L216.75,786.00L219.35,789.30M227.20,782.70L224.60,786.00L227.20,789.30M235.05,782.70L232.45,786.00L235.05,789.30M242.90,782.70L240.30,786.00L242.90,789.30M250.75,782.70L248.15,786.00L250.75,789.30M258.60,782.70L256.00,786.00L258.60,789.30M266.45,782.70L263.85,786.00L266.45,789.30M274.30,782.70L271.70,786.00L274.30,789.30M282.15,782.70L279.55,786.00L282.15,789.30M290.00,782.70L287.40,786.00L290.00,789.30M297.85,782.70L295.25,786.00L297.85,789.30M305.70,782.70L303.10,786.00L305.70,789.30M313.55,782.70L310.95,786.00L313.55,789.30M321.40,782.70L318.80,786.00L321.40,789.30M329.25,782.70L326.65,786.00L329.25,789.30M337.10,782.70L334.50,786.00L337.10,789.30M344.95,782.70L342.35,786.00L344.95,789.30M352.80,782.70L350.20,786.00L352.80,789.30M360.65,782.70L358.05,786.00L360.65,789.30M368.50,782.70L365.90,786.00L368.50,789.30M376.35,782.70L373.75,786.00L376.35,789.30M384.20,782.70L381.60,786.00L384.20,789.30M392.05,782.70L389.45,786.00L392.05,789.30M399.90,782.70L397.30,786.00L399.90,789.30M407.75,782.70L405.15,786.00L407.75,789.30M415.60,782.70L413.00,786.00L415.60,789.30M423.45,782.70L420.85,786.00L423.45,789.30M431.30,782.70L428.70,786.00L431.30,789.30M439.15,782.70L436.55,786.00L439.15,789.30M447.00,782.70L444.40,786.00L447.00,789.30M454.85,782.70L452.25,786.00L454.85,789.30M462.70,782.70L460.10,786.00L462.70,789.30M478.40,782.70L475.80,786.00L478.40,789.30M486.25,782.70L483.65,786.00L486.25,789.30M494.10,782.70L491.50,786.00L494.10,789.30M501.95,782.70L499.35,786.00L501.95,789.30M509.80,782.70L507.20,786.00L509.80,789.30M517.65,782.70L515.05,786.00L517.65,789.30M525.50,782.70L522.90,786.00L525.50,789.30M533.35,782.70L530.75,786.00L533.35,789.30M541.20,782.70L538.60,786.00L541.20,789.30M549.05,782.70L546.45,786.00L549.05,789.30M556.90,782.70L554.30,786.00L556.90,789.30M564.75,782.70L562.15,786.00L564.75,789.30M572.60,782.70L570.00,786.00L572.60,789.30M580.45,782.70L577.85,786.00L580.45,789.30M588.30,782.70L585.70,786.00L588.30,789.30M596.15,782.70L593.55,786.00L596.15,789.30M604.00,782.70L601.40,786.00L604.00,789.30M611.85,782.70L609.25,786.00L611.85,789.30M619.70,782.70L617.10,786.00L619.70,789.30M627.55,782.70L624.95,786.00L627.55,789.30M635.40,782.70L632.80,786.00L635.40,789.30M643.25,782.70L640.65,786.00L643.25,789.30M651.10,782.70L648.50,786.00L651.10,789.30M658.95,782.70L656.35,786.00L658.95,789.30M666.80,782.70L664.20,786.00L666.80,789.30M674.65,782.70L672.05,786.00L674.65,789.30M682.50,782.70L679.90,786.00L682.50,789.30M690.35,782.70L687.75,786.00L690.35,789.30M698.20,782.70L695.60,786.00L698.20,789.30M706.05,782.70L703.45,786.00L706.05,789.30M713.90,782.70L711.30,786.00L713.90,789.30M721.75,782.70L719.15,786.00L721.75,789.30M729.60,782.70L727.00,786.00L729.60,789.30M737.45,782.70L734.85,786.00L737.45,789.30M745.30,782.70L742.70,786.00L745.30,789.30M753.15,782.70L750.55,786.00L753.15,789.30M761.00,782.70L758.40,786.00L761.00,789.30M768.85,782.70L766.25,786.00L768.85,789.30M776.70,782.70L774.10,786.00L776.70,789.30M784.55,782.70L781.95,786.00L784.55,789.30M792.40,782.70L789.80,786.00L792.40,789.30M800.25,782.70L797.65,786.00L800.25,789.30M808.10,782.70L805.50,786.00L808.10,789.30M815.95,782.70L813.35,786.00L815.95,789.30M823.80,782.70L821.20,786.00L823.80,789.30M831.65,782.70L829.05,786.00L831.65,789.30M839.50,782.70L836.90,786.00L839.50,789.30M847.35,782.70L844.75,786.00L847.35,789.30M855.20,782.70L852.60,786.00L855.20,789.30M863.05,782.70L860.45,786.00L863.05,789.30M870.90,782.70L868.30,786.00L870.90,789.30M878.75,782.70L876.15,786.00L878.75,789.30M886.60,782.70L884.00,786.00L886.60,789.30M894.45,782.70L891.85,786.00L894.45,789.30M902.30,782.70L899.70,786.00L902.30,789.30M910.15,782.70L907.55,786.00L910.15,789.30M918.00,782.70L915.40,786.00L918.00,789.30M925.85,782.70L923.25,786.00L925.85,789.30M933.70,782.70L931.10,786.00L933.70,789.30M941.55,782.70L938.95,786.00L941.55,789.30M949.40,782.70L946.80,786.00L949.40,789.30M957.25,782.70L954.65,786.00L957.25,789.30M965.10,782.70L962.50,786.00L965.10,789.30M972.95,782.70L970.35,786.00L972.95,789.30M980.80,782.70L978.20,786.00L980.80,789.30M988.65,782.70L986.05,786.00L988.65,789.30M1004.35,782.70L1001.75,786.00L1004.35,789.30M1012.20,782.70L1009.60,786.00L1012.20,789.30M1020.05,782.70L1017.45,786.00L1020.05,789.30M1027.90,782.70L1025.30,786.00L1027.90,789.30M1035.75,782.70L1033.15,786.00L1035.75,789.30M1043.60,782.70L1041.00,786.00L1043.60,789.30M1051.45,782.70L1048.85,786.00L1051.45,789.30M1059.30,782.70L1056.70,786.00L1059.30,789.30M1067.15,782.70L1064.55,786.00L1067.15,789.30M1075.00,782.70L1072.40,786.00L1075.00,789.30M1082.85,782.70L1080.25,786.00L1082.85,789.30M1090.70,782.70L1088.10,786.00L1090.70,789.30M1098.55,782.70L1095.95,786.00L1098.55,789.30M1122.10,782.70L1119.50,786.00L1122.10,789.30M1129.95,782.70L1127.35,786.00L1129.95,789.30M1137.80,782.70L1135.20,786.00L1137.80,789.30M1145.65,782.70L1143.05,786.00L1145.65,789.30M1153.50,782.70L1150.90,786.00L1153.50,789.30M1161.35,782.70L1158.75,786.00L1161.35,789.30M1169.20,782.70L1166.60,786.00L1169.20,789.30" fill="none" stroke="#ffffff" stroke-width="1.7"/>
<rect x="1032.50" y="779.30" width="4.50" height="13.40" fill="#707020"/>
<text x="126.50" y="822.50" font-size="17" fill="#111" text-anchor="end" stroke="#111" stroke-width="0.35">Horse Net</text>
<text x="665.50" y="808.60" font-size="17" fill="#000" text-anchor="middle" stroke="#000" stroke-width="0.35">Horse (Sep. 2007 (Broad/equCab2)), Chain and Net Alignments</text>
<rect x="131.00" y="814.85" width="1069.00" height="1.50" fill="#d00000"/>
<path d="M134.00,813.00L136.60,815.60L134.00,818.20M165.40,813.00L168.00,815.60L165.40,818.20M173.25,813.00L175.85,815.60L173.25,818.20M181.10,813.00L183.70,815.60L181.10,818.20M1130.95,813.00L1133.55,815.60L1130.95,818.20M1138.80,813.00L1141.40,815.60L1138.80,818.20M1178.05,813.00L1180.65,815.60L1178.05,818.20" fill="none" stroke="#d00000" stroke-width="1.3"/>
<rect x="166.70" y="808.90" width="1.20" height="13.40" fill="#d00000"/>
<rect x="169.60" y="808.90" width="1.20" height="13.40" fill="#d00000"/>
<rect x="1129.40" y="808.90" width="1.20" height="13.40" fill="#d00000"/>
<rect x="1136.40" y="808.90" width="1.20" height="13.40" fill="#d00000"/>
<rect x="144.00" y="808.90" width="8.00" height="13.40" fill="#d00000"/>
<rect x="157.70" y="808.90" width="4.80" height="13.40" fill="#d00000"/>
<rect x="192.00" y="808.90" width="272.30" height="13.40" fill="#d00000"/>
<rect x="468.30" y="808.90" width="510.45" height="13.40" fill="#d00000"/>
<rect x="982.50" y="808.90" width="49.50" height="13.40" fill="#d00000"/>
<rect x="1040.00" y="808.90" width="65.50" height="13.40" fill="#d00000"/>
<rect x="1109.50" y="808.90" width="14.25" height="13.40" fill="#d00000"/>
<rect x="1146.25" y="808.90" width="17.50" height="13.40" fill="#d00000"/>
<rect x="1167.00" y="808.90" width="6.00" height="13.40" fill="#d00000"/>
<rect x="1185.00" y="808.90" width="5.00" height="13.40" fill="#d00000"/>
<rect x="1192.50" y="808.90" width="7.50" height="13.40" fill="#d00000"/>
<path d="M149.10,812.30L151.70,815.60L149.10,818.90M196.20,812.30L198.80,815.60L196.20,818.90M204.05,812.30L206.65,815.60L204.05,818.90M211.90,812.30L214.50,815.60L211.90,818.90M219.75,812.30L222.35,815.60L219.75,818.90M227.60,812.30L230.20,815.60L227.60,818.90M235.45,812.30L238.05,815.60L235.45,818.90M243.30,812.30L245.90,815.60L243.30,818.90M251.15,812.30L253.75,815.60L251.15,818.90M259.00,812.30L261.60,815.60L259.00,818.90M266.85,812.30L269.45,815.60L266.85,818.90M274.70,812.30L277.30,815.60L274.70,818.90M282.55,812.30L285.15,815.60L282.55,818.90M290.40,812.30L293.00,815.60L290.40,818.90M298.25,812.30L300.85,815.60L298.25,818.90M306.10,812.30L308.70,815.60L306.10,818.90M313.95,812.30L316.55,815.60L313.95,818.90M321.80,812.30L324.40,815.60L321.80,818.90M329.65,812.30L332.25,815.60L329.65,818.90M337.50,812.30L340.10,815.60L337.50,818.90M345.35,812.30L347.95,815.60L345.35,818.90M353.20,812.30L355.80,815.60L353.20,818.90M361.05,812.30L363.65,815.60L361.05,818.90M368.90,812.30L371.50,815.60L368.90,818.90M376.75,812.30L379.35,815.60L376.75,818.90M384.60,812.30L387.20,815.60L384.60,818.90M392.45,812.30L395.05,815.60L392.45,818.90M400.30,812.30L402.90,815.60L400.30,818.90M408.15,812.30L410.75,815.60L408.15,818.90M416.00,812.30L418.60,815.60L416.00,818.90M423.85,812.30L426.45,815.60L423.85,818.90M431.70,812.30L434.30,815.60L431.70,818.90M439.55,812.30L442.15,815.60L439.55,818.90M447.40,812.30L450.00,815.60L447.40,818.90M455.25,812.30L457.85,815.60L455.25,818.90M470.95,812.30L473.55,815.60L470.95,818.90M478.80,812.30L481.40,815.60L478.80,818.90M486.65,812.30L489.25,815.60L486.65,818.90M494.50,812.30L497.10,815.60L494.50,818.90M502.35,812.30L504.95,815.60L502.35,818.90M510.20,812.30L512.80,815.60L510.20,818.90M518.05,812.30L520.65,815.60L518.05,818.90M525.90,812.30L528.50,815.60L525.90,818.90M533.75,812.30L536.35,815.60L533.75,818.90M541.60,812.30L544.20,815.60L541.60,818.90M549.45,812.30L552.05,815.60L549.45,818.90M557.30,812.30L559.90,815.60L557.30,818.90M565.15,812.30L567.75,815.60L565.15,818.90M573.00,812.30L575.60,815.60L573.00,818.90M580.85,812.30L583.45,815.60L580.85,818.90M588.70,812.30L591.30,815.60L588.70,818.90M596.55,812.30L599.15,815.60L596.55,818.90M604.40,812.30L607.00,815.60L604.40,818.90M612.25,812.30L614.85,815.60L612.25,818.90M620.10,812.30L622.70,815.60L620.10,818.90M627.95,812.30L630.55,815.60L627.95,818.90M635.80,812.30L638.40,815.60L635.80,818.90M643.65,812.30L646.25,815.60L643.65,818.90M651.50,812.30L654.10,815.60L651.50,818.90M659.35,812.30L661.95,815.60L659.35,818.90M667.20,812.30L669.80,815.60L667.20,818.90M675.05,812.30L677.65,815.60L675.05,818.90M682.90,812.30L685.50,815.60L682.90,818.90M690.75,812.30L693.35,815.60L690.75,818.90M698.60,812.30L701.20,815.60L698.60,818.90M706.45,812.30L709.05,815.60L706.45,818.90M714.30,812.30L716.90,815.60L714.30,818.90M722.15,812.30L724.75,815.60L722.15,818.90M730.00,812.30L732.60,815.60L730.00,818.90M737.85,812.30L740.45,815.60L737.85,818.90M745.70,812.30L748.30,815.60L745.70,818.90M753.55,812.30L756.15,815.60L753.55,818.90M761.40,812.30L764.00,815.60L761.40,818.90M769.25,812.30L771.85,815.60L769.25,818.90M777.10,812.30L779.70,815.60L777.10,818.90M784.95,812.30L787.55,815.60L784.95,818.90M792.80,812.30L795.40,815.60L792.80,818.90M800.65,812.30L803.25,815.60L800.65,818.90M808.50,812.30L811.10,815.60L808.50,818.90M816.35,812.30L818.95,815.60L816.35,818.90M824.20,812.30L826.80,815.60L824.20,818.90M832.05,812.30L834.65,815.60L832.05,818.90M839.90,812.30L842.50,815.60L839.90,818.90M847.75,812.30L850.35,815.60L847.75,818.90M855.60,812.30L858.20,815.60L855.60,818.90M863.45,812.30L866.05,815.60L863.45,818.90M871.30,812.30L873.90,815.60L871.30,818.90M879.15,812.30L881.75,815.60L879.15,818.90M887.00,812.30L889.60,815.60L887.00,818.90M894.85,812.30L897.45,815.60L894.85,818.90M902.70,812.30L905.30,815.60L902.70,818.90M910.55,812.30L913.15,815.60L910.55,818.90M918.40,812.30L921.00,815.60L918.40,818.90M926.25,812.30L928.85,815.60L926.25,818.90M934.10,812.30L936.70,815.60L934.10,818.90M941.95,812.30L944.55,815.60L941.95,818.90M949.80,812.30L952.40,815.60L949.80,818.90M957.65,812.30L960.25,815.60L957.65,818.90M965.50,812.30L968.10,815.60L965.50,818.90M973.35,812.30L975.95,815.60L973.35,818.90M989.05,812.30L991.65,815.60L989.05,818.90M996.90,812.30L999.50,815.60L996.90,818.90M1004.75,812.30L1007.35,815.60L1004.75,818.90M1012.60,812.30L1015.20,815.60L1012.60,818.90M1020.45,812.30L1023.05,815.60L1020.45,818.90M1028.30,812.30L1030.90,815.60L1028.30,818.90M1044.00,812.30L1046.60,815.60L1044.00,818.90M1051.85,812.30L1054.45,815.60L1051.85,818.90M1059.70,812.30L1062.30,815.60L1059.70,818.90M1067.55,812.30L1070.15,815.60L1067.55,818.90M1075.40,812.30L1078.00,815.60L1075.40,818.90M1083.25,812.30L1085.85,815.60L1083.25,818.90M1091.10,812.30L1093.70,815.60L1091.10,818.90M1098.95,812.30L1101.55,815.60L1098.95,818.90M1114.65,812.30L1117.25,815.60L1114.65,818.90M1153.90,812.30L1156.50,815.60L1153.90,818.90M1169.60,812.30L1172.20,815.60L1169.60,818.90M1185.30,812.30L1187.90,815.60L1185.30,818.90M1193.15,812.30L1195.75,815.60L1193.15,818.90" fill="none" stroke="#ffffff" stroke-width="1.7"/>
<rect x="501.70" y="808.90" width="4.30" height="13.40" fill="#ee22cc"/>
<rect x="1032.00" y="808.90" width="5.50" height="13.40" fill="#ee22cc"/></svg></body></html>
